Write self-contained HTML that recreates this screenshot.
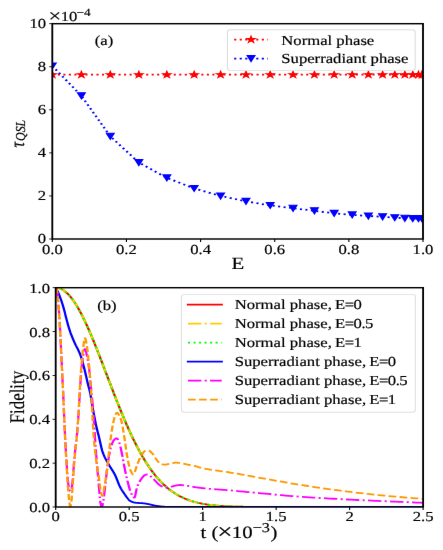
<!DOCTYPE html>
<html lang="en"><head><meta charset="utf-8"><title>QSL time and fidelity</title>
<style>html,body{margin:0;padding:0;background:#fff}svg{display:block}text{font-family:"Liberation Serif", "DejaVu Serif", serif;fill:#000;stroke:#000;stroke-width:0.22px;text-rendering:geometricPrecision}</style>
</head><body>
<svg width="443" height="550" viewBox="0 0 443 550">
<rect width="443" height="550" fill="#fff"/>
<defs>
<clipPath id="c1"><rect x="52.3" y="30.38" width="370.7" height="276.03"/></clipPath>
<clipPath id="c2"><rect x="55.7" y="368.85" width="367.4" height="281.15"/></clipPath>
<filter id="soft" x="0" y="0" width="443" height="550" filterUnits="userSpaceOnUse" color-interpolation-filters="sRGB"><feConvolveMatrix order="3" kernelMatrix="0.00163 0.03713 0.00163 0.03713 0.84497 0.03713 0.00163 0.03713 0.00163" edgeMode="duplicate" preserveAlpha="false"/></filter>
</defs>
<g filter="url(#soft)"><g transform="scale(1 0.78)">
<path d="M52.3 95.77 L81.38 95.77 L110.29 95.77 L138.84 95.77 L166.85 95.77 L194.16 95.77 L220.59 95.77 L245.99 95.77 L270.19 95.77 L293.05 95.77 L314.42 95.77 L334.18 95.77 L352.2 95.77 L368.37 95.77 L382.6 95.77 L394.78 95.77 L404.86 95.77 L412.76 95.77 L418.44 95.77 L421.86 95.77 L423 95.77" fill="none" stroke="#ff0000" stroke-width="2.3" stroke-dasharray="2.08 3.44" clip-path="url(#c1)" stroke-linejoin="round"/>
<polygon points="52.3,91.6 53.24,94.48 56.26,94.48 53.81,96.26 54.75,99.14 52.3,97.36 49.85,99.14 50.79,96.26 48.34,94.48 51.36,94.48" fill="#ff0000" stroke="#ff0000" stroke-width="1.39" stroke-linejoin="miter" clip-path="url(#c1)"/>
<polygon points="81.38,91.6 82.32,94.48 85.35,94.48 82.9,96.26 83.83,99.14 81.38,97.36 78.94,99.14 79.87,96.26 77.42,94.48 80.45,94.48" fill="#ff0000" stroke="#ff0000" stroke-width="1.39" stroke-linejoin="miter" clip-path="url(#c1)"/>
<polygon points="110.29,91.6 111.23,94.48 114.25,94.48 111.8,96.26 112.74,99.14 110.29,97.36 107.84,99.14 108.78,96.26 106.33,94.48 109.35,94.48" fill="#ff0000" stroke="#ff0000" stroke-width="1.39" stroke-linejoin="miter" clip-path="url(#c1)"/>
<polygon points="138.84,91.6 139.77,94.48 142.8,94.48 140.35,96.26 141.29,99.14 138.84,97.36 136.39,99.14 137.32,96.26 134.88,94.48 137.9,94.48" fill="#ff0000" stroke="#ff0000" stroke-width="1.39" stroke-linejoin="miter" clip-path="url(#c1)"/>
<polygon points="166.85,91.6 167.79,94.48 170.82,94.48 168.37,96.26 169.3,99.14 166.85,97.36 164.4,99.14 165.34,96.26 162.89,94.48 165.92,94.48" fill="#ff0000" stroke="#ff0000" stroke-width="1.39" stroke-linejoin="miter" clip-path="url(#c1)"/>
<polygon points="194.16,91.6 195.1,94.48 198.12,94.48 195.67,96.26 196.61,99.14 194.16,97.36 191.71,99.14 192.65,96.26 190.2,94.48 193.23,94.48" fill="#ff0000" stroke="#ff0000" stroke-width="1.39" stroke-linejoin="miter" clip-path="url(#c1)"/>
<polygon points="220.59,91.6 221.53,94.48 224.56,94.48 222.11,96.26 223.04,99.14 220.59,97.36 218.15,99.14 219.08,96.26 216.63,94.48 219.66,94.48" fill="#ff0000" stroke="#ff0000" stroke-width="1.39" stroke-linejoin="miter" clip-path="url(#c1)"/>
<polygon points="245.99,91.6 246.93,94.48 249.95,94.48 247.5,96.26 248.44,99.14 245.99,97.36 243.54,99.14 244.48,96.26 242.03,94.48 245.05,94.48" fill="#ff0000" stroke="#ff0000" stroke-width="1.39" stroke-linejoin="miter" clip-path="url(#c1)"/>
<polygon points="270.19,91.6 271.13,94.48 274.15,94.48 271.71,96.26 272.64,99.14 270.19,97.36 267.74,99.14 268.68,96.26 266.23,94.48 269.26,94.48" fill="#ff0000" stroke="#ff0000" stroke-width="1.39" stroke-linejoin="miter" clip-path="url(#c1)"/>
<polygon points="293.05,91.6 293.99,94.48 297.01,94.48 294.56,96.26 295.5,99.14 293.05,97.36 290.6,99.14 291.54,96.26 289.09,94.48 292.11,94.48" fill="#ff0000" stroke="#ff0000" stroke-width="1.39" stroke-linejoin="miter" clip-path="url(#c1)"/>
<polygon points="314.42,91.6 315.36,94.48 318.39,94.48 315.94,96.26 316.87,99.14 314.42,97.36 311.98,99.14 312.91,96.26 310.46,94.48 313.49,94.48" fill="#ff0000" stroke="#ff0000" stroke-width="1.39" stroke-linejoin="miter" clip-path="url(#c1)"/>
<polygon points="334.18,91.6 335.12,94.48 338.15,94.48 335.7,96.26 336.63,99.14 334.18,97.36 331.73,99.14 332.67,96.26 330.22,94.48 333.25,94.48" fill="#ff0000" stroke="#ff0000" stroke-width="1.39" stroke-linejoin="miter" clip-path="url(#c1)"/>
<polygon points="352.2,91.6 353.14,94.48 356.17,94.48 353.72,96.26 354.65,99.14 352.2,97.36 349.75,99.14 350.69,96.26 348.24,94.48 351.27,94.48" fill="#ff0000" stroke="#ff0000" stroke-width="1.39" stroke-linejoin="miter" clip-path="url(#c1)"/>
<polygon points="368.37,91.6 369.31,94.48 372.34,94.48 369.89,96.26 370.82,99.14 368.37,97.36 365.92,99.14 366.86,96.26 364.41,94.48 367.44,94.48" fill="#ff0000" stroke="#ff0000" stroke-width="1.39" stroke-linejoin="miter" clip-path="url(#c1)"/>
<polygon points="382.6,91.6 383.53,94.48 386.56,94.48 384.11,96.26 385.05,99.14 382.6,97.36 380.15,99.14 381.08,96.26 378.63,94.48 381.66,94.48" fill="#ff0000" stroke="#ff0000" stroke-width="1.39" stroke-linejoin="miter" clip-path="url(#c1)"/>
<polygon points="394.78,91.6 395.72,94.48 398.74,94.48 396.3,96.26 397.23,99.14 394.78,97.36 392.33,99.14 393.27,96.26 390.82,94.48 393.85,94.48" fill="#ff0000" stroke="#ff0000" stroke-width="1.39" stroke-linejoin="miter" clip-path="url(#c1)"/>
<polygon points="404.86,91.6 405.79,94.48 408.82,94.48 406.37,96.26 407.31,99.14 404.86,97.36 402.41,99.14 403.34,96.26 400.89,94.48 403.92,94.48" fill="#ff0000" stroke="#ff0000" stroke-width="1.39" stroke-linejoin="miter" clip-path="url(#c1)"/>
<polygon points="412.76,91.6 413.69,94.48 416.72,94.48 414.27,96.26 415.21,99.14 412.76,97.36 410.31,99.14 411.24,96.26 408.79,94.48 411.82,94.48" fill="#ff0000" stroke="#ff0000" stroke-width="1.39" stroke-linejoin="miter" clip-path="url(#c1)"/>
<polygon points="418.44,91.6 419.37,94.48 422.4,94.48 419.95,96.26 420.89,99.14 418.44,97.36 415.99,99.14 416.92,96.26 414.47,94.48 417.5,94.48" fill="#ff0000" stroke="#ff0000" stroke-width="1.39" stroke-linejoin="miter" clip-path="url(#c1)"/>
<polygon points="421.86,91.6 422.79,94.48 425.82,94.48 423.37,96.26 424.31,99.14 421.86,97.36 419.41,99.14 420.34,96.26 417.89,94.48 420.92,94.48" fill="#ff0000" stroke="#ff0000" stroke-width="1.39" stroke-linejoin="miter" clip-path="url(#c1)"/>
<polygon points="423,91.6 423.94,94.48 426.96,94.48 424.51,96.26 425.45,99.14 423,97.36 420.55,99.14 421.49,96.26 419.04,94.48 422.06,94.48" fill="#ff0000" stroke="#ff0000" stroke-width="1.39" stroke-linejoin="miter" clip-path="url(#c1)"/>
<path d="M52.3 84.49 L81.38 122.85 L110.29 174.75 L138.84 208.42 L166.85 228.02 L194.16 241.54 L220.59 251.21 L245.99 258.11 L270.19 263.35 L293.05 266.94 L314.42 270.25 L334.18 273.56 L352.2 275.5 L368.37 276.88 L382.6 277.98 L394.78 279.08 L404.86 279.77 L412.76 280.05 L418.44 280.19 L421.86 280.19 L423 280.19" fill="none" stroke="#0000ff" stroke-width="2.3" stroke-dasharray="2.08 3.44" clip-path="url(#c1)" stroke-linejoin="round"/>
<polygon points="48.48,80.67 56.12,80.67 52.3,88.31" fill="#0000ff" stroke="#0000ff" stroke-width="1.39" stroke-linejoin="miter" clip-path="url(#c1)"/>
<polygon points="77.57,119.03 85.2,119.03 81.38,126.67" fill="#0000ff" stroke="#0000ff" stroke-width="1.39" stroke-linejoin="miter" clip-path="url(#c1)"/>
<polygon points="106.47,170.93 114.11,170.93 110.29,178.57" fill="#0000ff" stroke="#0000ff" stroke-width="1.39" stroke-linejoin="miter" clip-path="url(#c1)"/>
<polygon points="135.02,204.6 142.66,204.6 138.84,212.24" fill="#0000ff" stroke="#0000ff" stroke-width="1.39" stroke-linejoin="miter" clip-path="url(#c1)"/>
<polygon points="163.03,224.2 170.67,224.2 166.85,231.84" fill="#0000ff" stroke="#0000ff" stroke-width="1.39" stroke-linejoin="miter" clip-path="url(#c1)"/>
<polygon points="190.34,237.72 197.98,237.72 194.16,245.36" fill="#0000ff" stroke="#0000ff" stroke-width="1.39" stroke-linejoin="miter" clip-path="url(#c1)"/>
<polygon points="216.77,247.39 224.41,247.39 220.59,255.02" fill="#0000ff" stroke="#0000ff" stroke-width="1.39" stroke-linejoin="miter" clip-path="url(#c1)"/>
<polygon points="242.17,254.29 249.81,254.29 245.99,261.93" fill="#0000ff" stroke="#0000ff" stroke-width="1.39" stroke-linejoin="miter" clip-path="url(#c1)"/>
<polygon points="266.37,259.53 274.01,259.53 270.19,267.17" fill="#0000ff" stroke="#0000ff" stroke-width="1.39" stroke-linejoin="miter" clip-path="url(#c1)"/>
<polygon points="289.23,263.12 296.87,263.12 293.05,270.76" fill="#0000ff" stroke="#0000ff" stroke-width="1.39" stroke-linejoin="miter" clip-path="url(#c1)"/>
<polygon points="310.61,266.43 318.24,266.43 314.42,274.07" fill="#0000ff" stroke="#0000ff" stroke-width="1.39" stroke-linejoin="miter" clip-path="url(#c1)"/>
<polygon points="330.36,269.74 338,269.74 334.18,277.38" fill="#0000ff" stroke="#0000ff" stroke-width="1.39" stroke-linejoin="miter" clip-path="url(#c1)"/>
<polygon points="348.38,271.68 356.02,271.68 352.2,279.31" fill="#0000ff" stroke="#0000ff" stroke-width="1.39" stroke-linejoin="miter" clip-path="url(#c1)"/>
<polygon points="364.55,273.06 372.19,273.06 368.37,280.69" fill="#0000ff" stroke="#0000ff" stroke-width="1.39" stroke-linejoin="miter" clip-path="url(#c1)"/>
<polygon points="378.78,274.16 386.42,274.16 382.6,281.8" fill="#0000ff" stroke="#0000ff" stroke-width="1.39" stroke-linejoin="miter" clip-path="url(#c1)"/>
<polygon points="390.96,275.26 398.6,275.26 394.78,282.9" fill="#0000ff" stroke="#0000ff" stroke-width="1.39" stroke-linejoin="miter" clip-path="url(#c1)"/>
<polygon points="401.04,275.95 408.68,275.95 404.86,283.59" fill="#0000ff" stroke="#0000ff" stroke-width="1.39" stroke-linejoin="miter" clip-path="url(#c1)"/>
<polygon points="408.94,276.23 416.58,276.23 412.76,283.87" fill="#0000ff" stroke="#0000ff" stroke-width="1.39" stroke-linejoin="miter" clip-path="url(#c1)"/>
<polygon points="414.62,276.37 422.26,276.37 418.44,284.01" fill="#0000ff" stroke="#0000ff" stroke-width="1.39" stroke-linejoin="miter" clip-path="url(#c1)"/>
<polygon points="418.04,276.37 425.68,276.37 421.86,284.01" fill="#0000ff" stroke="#0000ff" stroke-width="1.39" stroke-linejoin="miter" clip-path="url(#c1)"/>
<polygon points="419.18,276.37 426.82,276.37 423,284.01" fill="#0000ff" stroke="#0000ff" stroke-width="1.39" stroke-linejoin="miter" clip-path="url(#c1)"/>
<rect x="52.3" y="30.38" width="370.7" height="276.03" fill="none" stroke="#000" stroke-width="1.85"/>
<line x1="52.3" x2="52.3" y1="306.41" y2="310.38" stroke="#000" stroke-width="1.1"/>
<text transform="translate(52.3 325.64) scale(1 1.06)" text-anchor="middle" font-size="16.67">0.0</text>
<line x1="126.44" x2="126.44" y1="306.41" y2="310.38" stroke="#000" stroke-width="1.1"/>
<text transform="translate(126.44 325.64) scale(1 1.06)" text-anchor="middle" font-size="16.67">0.2</text>
<line x1="200.58" x2="200.58" y1="306.41" y2="310.38" stroke="#000" stroke-width="1.1"/>
<text transform="translate(200.58 325.64) scale(1 1.06)" text-anchor="middle" font-size="16.67">0.4</text>
<line x1="274.72" x2="274.72" y1="306.41" y2="310.38" stroke="#000" stroke-width="1.1"/>
<text transform="translate(274.72 325.64) scale(1 1.06)" text-anchor="middle" font-size="16.67">0.6</text>
<line x1="348.86" x2="348.86" y1="306.41" y2="310.38" stroke="#000" stroke-width="1.1"/>
<text transform="translate(348.86 325.64) scale(1 1.06)" text-anchor="middle" font-size="16.67">0.8</text>
<line x1="423" x2="423" y1="306.41" y2="310.38" stroke="#000" stroke-width="1.1"/>
<text transform="translate(423 325.64) scale(1 1.06)" text-anchor="middle" font-size="16.67">1.0</text>
<line x1="49.2" x2="52.3" y1="306.41" y2="306.41" stroke="#000" stroke-width="1.1"/>
<text transform="translate(46.2 312.05) scale(1 1.06)" text-anchor="end" font-size="16.67">0</text>
<line x1="49.2" x2="52.3" y1="251.21" y2="251.21" stroke="#000" stroke-width="1.1"/>
<text transform="translate(46.2 256.85) scale(1 1.06)" text-anchor="end" font-size="16.67">2</text>
<line x1="49.2" x2="52.3" y1="196" y2="196" stroke="#000" stroke-width="1.1"/>
<text transform="translate(46.2 201.64) scale(1 1.06)" text-anchor="end" font-size="16.67">4</text>
<line x1="49.2" x2="52.3" y1="140.79" y2="140.79" stroke="#000" stroke-width="1.1"/>
<text transform="translate(46.2 146.44) scale(1 1.06)" text-anchor="end" font-size="16.67">6</text>
<line x1="49.2" x2="52.3" y1="85.59" y2="85.59" stroke="#000" stroke-width="1.1"/>
<text transform="translate(46.2 91.23) scale(1 1.06)" text-anchor="end" font-size="16.67">8</text>
<line x1="49.2" x2="52.3" y1="30.38" y2="30.38" stroke="#000" stroke-width="1.1"/>
<text transform="translate(46.2 36.03) scale(1 1.06)" text-anchor="end" font-size="16.67">10</text>
<text transform="translate(48.6 26.92) scale(1 1.06)" text-anchor="start" font-size="16.67"><tspan font-size="22.5" dy="1.2">×</tspan><tspan dy="-1.2" dx="-0.6">10</tspan><tspan font-size="13.33" dy="-5.5" dx="-0.8">−4</tspan></text>
<text transform="translate(104 57.95) scale(1 1.06)" text-anchor="middle" font-size="16.67">(a)</text>
<text transform="translate(237.8 344.62) scale(1 1.06)" text-anchor="middle" font-size="20.83">E</text>
<text transform="translate(23.8 188.97) rotate(-90)" font-style="italic" font-size="20.21">τ</text>
<text transform="translate(25.3 180.64) rotate(-90) scale(1.11 1)" font-style="italic" font-size="13.7">QSL</text>
<rect x="227.4" y="38.08" width="187.8" height="52.44" rx="3" ry="3.6" fill="#fff" fill-opacity="0.8" stroke="#dadada" stroke-opacity="0.9" stroke-width="1.1"/>
<path d="M234.2 50.77 L267.9 50.77" fill="none" stroke="#ff0000" stroke-width="2.3" stroke-dasharray="2.08 3.44" stroke-linejoin="round"/>
<polygon points="251.05,46.6 251.99,49.48 255.01,49.48 252.56,51.26 253.5,54.14 251.05,52.36 248.6,54.14 249.54,51.26 247.09,49.48 250.11,49.48" fill="#ff0000" stroke="#ff0000" stroke-width="1.39" stroke-linejoin="miter"/>
<text transform="translate(281.3 57.18) scale(1 1.06)" text-anchor="start" font-size="16.67">Normal phase</text>
<path d="M234.2 75.13 L267.9 75.13" fill="none" stroke="#0000ff" stroke-width="2.3" stroke-dasharray="2.08 3.44" stroke-linejoin="round"/>
<polygon points="247.23,71.31 254.87,71.31 251.05,78.95" fill="#0000ff" stroke="#0000ff" stroke-width="1.39" stroke-linejoin="miter"/>
<text transform="translate(281.3 81.03) scale(1 1.06)" text-anchor="start" font-size="16.67">Superradiant phase</text>
<path d="M55.7 368.85 L56.31 368.87 L56.93 368.93 L57.54 369.03 L58.15 369.17 L58.77 369.36 L59.38 369.58 L59.99 369.85 L60.61 370.15 L61.22 370.5 L61.83 370.89 L62.45 371.32 L63.06 371.78 L63.67 372.29 L64.29 372.84 L64.9 373.42 L65.51 374.05 L66.13 374.71 L66.74 375.41 L67.35 376.15 L67.97 376.93 L68.58 377.75 L69.19 378.6 L69.81 379.49 L70.42 380.42 L71.03 381.38 L71.65 382.38 L72.26 383.41 L72.87 384.48 L73.49 385.58 L74.1 386.72 L74.71 387.89 L75.33 389.09 L75.94 390.32 L76.55 391.59 L77.17 392.89 L77.78 394.22 L78.39 395.58 L79.01 396.97 L79.62 398.39 L80.23 399.84 L80.85 401.31 L81.46 402.82 L82.07 404.35 L82.69 405.9 L83.3 407.48 L83.91 409.09 L84.53 410.72 L85.14 412.38 L85.75 414.06 L86.37 415.76 L86.98 417.48 L87.59 419.22 L88.21 420.99 L88.82 422.77 L89.43 424.58 L90.05 426.4 L90.66 428.24 L91.27 430.1 L91.89 431.97 L92.5 433.86 L93.11 435.76 L93.73 437.68 L94.34 439.61 L94.95 441.56 L95.57 443.52 L96.18 445.48 L96.79 447.47 L97.41 449.46 L98.02 451.46 L98.63 453.46 L99.25 455.48 L99.86 457.51 L100.47 459.54 L101.09 461.58 L101.7 463.62 L102.32 465.67 L102.93 467.72 L103.54 469.78 L104.16 471.84 L104.77 473.9 L105.38 475.96 L106 478.03 L106.61 480.09 L107.22 482.16 L107.84 484.22 L108.45 486.28 L109.06 488.35 L109.68 490.4 L110.29 492.46 L110.9 494.51 L111.52 496.56 L112.13 498.6 L112.74 500.64 L113.36 502.67 L113.97 504.7 L114.58 506.72 L115.2 508.73 L115.81 510.74 L116.42 512.73 L117.04 514.72 L117.65 516.7 L118.26 518.67 L118.88 520.63 L119.49 522.57 L120.1 524.51 L120.72 526.44 L121.33 528.35 L121.94 530.25 L122.56 532.15 L123.17 534.02 L123.78 535.89 L124.4 537.74 L125.01 539.58 L125.62 541.41 L126.24 543.22 L126.85 545.02 L127.46 546.8 L128.08 548.57 L128.69 550.33 L129.3 552.06 L129.92 553.79 L130.53 555.49 L131.14 557.18 L131.76 558.85 L132.37 560.51 L132.98 562.15 L133.6 563.77 L134.21 565.38 L134.82 566.96 L135.44 568.53 L136.05 570.08 L136.66 571.62 L137.28 573.14 L137.89 574.63 L138.5 576.11 L139.12 577.58 L139.73 579.02 L140.34 580.44 L140.96 581.85 L141.57 583.24 L142.18 584.61 L142.8 585.96 L143.41 587.3 L144.02 588.61 L144.64 589.91 L145.25 591.18 L145.86 592.44 L146.48 593.68 L147.09 594.9 L147.7 596.11 L148.32 597.29 L148.93 598.46 L149.54 599.61 L150.16 600.74 L150.77 601.85 L151.38 602.95 L152 604.02 L152.61 605.08 L153.22 606.12 L153.84 607.15 L154.45 608.15 L155.06 609.14 L155.68 610.11 L156.29 611.06 L156.9 611.99 L157.52 612.9 L158.13 613.8 L158.74 614.68 L159.36 615.54 L159.97 616.39 L160.58 617.22 L161.2 618.04 L161.81 618.84 L162.42 619.62 L163.04 620.39 L163.65 621.15 L164.26 621.89 L164.88 622.61 L165.49 623.32 L166.1 624.01 L166.72 624.69 L167.33 625.36 L167.94 626.01 L168.56 626.65 L169.17 627.28 L169.78 627.89 L170.4 628.49 L171.01 629.07 L171.62 629.64 L172.24 630.2 L172.85 630.75 L173.46 631.28 L174.08 631.8 L174.69 632.32 L175.3 632.81 L175.92 633.3 L176.53 633.78 L177.14 634.24 L177.76 634.69 L178.37 635.14 L178.98 635.57 L179.6 635.99 L180.21 636.4 L180.82 636.8 L181.44 637.19 L182.05 637.57 L182.66 637.94 L183.28 638.31 L183.89 638.66 L184.5 639 L185.12 639.34 L185.73 639.66 L186.34 639.98 L186.96 640.29 L187.57 640.59 L188.18 640.89 L188.8 641.17 L189.41 641.45 L190.02 641.72 L190.64 641.98 L191.25 642.24 L191.86 642.49 L192.48 642.73 L193.09 642.96 L193.71 643.19 L194.32 643.41 L194.93 643.63 L195.55 643.84 L196.16 644.04 L196.77 644.24 L197.39 644.43 L198 644.62 L198.61 644.8 L199.23 644.98 L199.84 645.15 L200.45 645.31 L201.07 645.47 L201.68 645.63 L202.29 645.78 L202.91 645.92 L203.52 646.06 L204.13 646.2 L204.75 646.33 L205.36 646.46 L205.97 646.59 L206.59 646.71 L207.2 646.83 L207.81 646.94 L208.43 647.05 L209.04 647.16 L209.65 647.26 L210.27 647.36 L210.88 647.45 L211.49 647.55 L212.11 647.64 L212.72 647.72 L213.33 647.81 L213.95 647.89 L214.56 647.97 L215.17 648.04 L215.79 648.12 L216.4 648.19 L217.01 648.26 L217.63 648.32 L218.24 648.39 L218.85 648.45 L219.47 648.51 L220.08 648.57 L220.69 648.62 L221.31 648.68 L221.92 648.73 L222.53 648.78 L223.15 648.83 L223.76 648.87 L224.37 648.92 L224.99 648.96 L225.6 649 L226.21 649.04 L226.83 649.08 L227.44 649.12 L228.05 649.15 L228.67 649.19 L229.28 649.22 L229.89 649.25 L230.51 649.28 L231.12 649.31 L231.73 649.34 L232.35 649.37 L232.96 649.39 L233.57 649.42 L234.19 649.44 L234.8 649.47 L235.41 649.49 L236.03 649.51 L236.64 649.53 L237.25 649.55 L237.87 649.57 L238.48 649.59 L239.09 649.61 L239.71 649.62 L240.32 649.64 L240.93 649.66 L241.55 649.67 L242.16 649.68 L242.77 649.7 L243.39 649.71 L244 649.72 L244.61 649.74 L245.23 649.75 L245.84 649.76 L246.45 649.77 L247.07 649.78 L247.68 649.79 L248.29 649.8 L248.91 649.81 L249.52 649.82 L250.13 649.83 L250.75 649.83 L251.36 649.84 L251.97 649.85 L252.59 649.86 L253.2 649.86 L253.81 649.87 L254.43 649.87 L255.04 649.88 L255.65 649.89 L256.27 649.89 L256.88 649.9 L257.49 649.9 L258.11 649.91 L258.72 649.91 L259.33 649.91 L259.95 649.92 L260.56 649.92 L261.17 649.93 L261.79 649.93 L262.4 649.93 L263.01 649.94 L263.63 649.94 L264.24 649.94 L264.85 649.95 L265.47 649.95 L266.08 649.95 L266.69 649.95 L267.31 649.96 L267.92 649.96 L268.53 649.96 L269.15 649.96 L269.76 649.96 L270.37 649.97 L270.99 649.97 L271.6 649.97 L272.21 649.97 L272.83 649.97 L273.44 649.97 L274.05 649.97 L274.67 649.98 L275.28 649.98 L275.89 649.98 L276.51 649.98 L277.12 649.98 L277.73 649.98 L278.35 649.98 L278.96 649.98 L279.57 649.98 L280.19 649.99 L280.8 649.99 L281.41 649.99 L282.03 649.99 L282.64 649.99 L283.25 649.99 L283.87 649.99 L284.48 649.99 L285.09 649.99 L285.71 649.99 L286.32 649.99 L286.94 649.99 L287.55 649.99 L288.16 649.99 L288.78 649.99 L289.39 649.99 L290 649.99 L290.62 649.99 L291.23 649.99 L291.84 649.99 L292.46 650 L293.07 650 L293.68 650 L294.3 650 L294.91 650 L295.52 650 L296.14 650 L296.75 650 L297.36 650 L297.98 650 L298.59 650 L299.2 650 L299.82 650 L300.43 650 L301.04 650 L301.66 650 L302.27 650 L302.88 650 L303.5 650 L304.11 650 L304.72 650 L305.34 650 L305.95 650 L306.56 650 L307.18 650 L307.79 650 L308.4 650 L309.02 650 L309.63 650 L310.24 650 L310.86 650 L311.47 650 L312.08 650 L312.7 650 L313.31 650 L313.92 650 L314.54 650 L315.15 650 L315.76 650 L316.38 650 L316.99 650 L317.6 650 L318.22 650 L318.83 650 L319.44 650 L320.06 650 L320.67 650 L321.28 650 L321.9 650 L322.51 650 L323.12 650 L323.74 650 L324.35 650 L324.96 650 L325.58 650 L326.19 650 L326.8 650 L327.42 650 L328.03 650 L328.64 650 L329.26 650 L329.87 650 L330.48 650 L331.1 650 L331.71 650 L332.32 650 L332.94 650 L333.55 650 L334.16 650 L334.78 650 L335.39 650 L336 650 L336.62 650 L337.23 650 L337.84 650 L338.46 650 L339.07 650 L339.68 650 L340.3 650 L340.91 650 L341.52 650 L342.14 650 L342.75 650 L343.36 650 L343.98 650 L344.59 650 L345.2 650 L345.82 650 L346.43 650 L347.04 650 L347.66 650 L348.27 650 L348.88 650 L349.5 650 L350.11 650 L350.72 650 L351.34 650 L351.95 650 L352.56 650 L353.18 650 L353.79 650 L354.4 650 L355.02 650 L355.63 650 L356.24 650 L356.86 650 L357.47 650 L358.08 650 L358.7 650 L359.31 650 L359.92 650 L360.54 650 L361.15 650 L361.76 650 L362.38 650 L362.99 650 L363.6 650 L364.22 650 L364.83 650 L365.44 650 L366.06 650 L366.67 650 L367.28 650 L367.9 650 L368.51 650 L369.12 650 L369.74 650 L370.35 650 L370.96 650 L371.58 650 L372.19 650 L372.8 650 L373.42 650 L374.03 650 L374.64 650 L375.26 650 L375.87 650 L376.48 650 L377.1 650 L377.71 650 L378.33 650 L378.94 650 L379.55 650 L380.17 650 L380.78 650 L381.39 650 L382.01 650 L382.62 650 L383.23 650 L383.85 650 L384.46 650 L385.07 650 L385.69 650 L386.3 650 L386.91 650 L387.53 650 L388.14 650 L388.75 650 L389.37 650 L389.98 650 L390.59 650 L391.21 650 L391.82 650 L392.43 650 L393.05 650 L393.66 650 L394.27 650 L394.89 650 L395.5 650 L396.11 650 L396.73 650 L397.34 650 L397.95 650 L398.57 650 L399.18 650 L399.79 650 L400.41 650 L401.02 650 L401.63 650 L402.25 650 L402.86 650 L403.47 650 L404.09 650 L404.7 650 L405.31 650 L405.93 650 L406.54 650 L407.15 650 L407.77 650 L408.38 650 L408.99 650 L409.61 650 L410.22 650 L410.83 650 L411.45 650 L412.06 650 L412.67 650 L413.29 650 L413.9 650 L414.51 650 L415.13 650 L415.74 650 L416.35 650 L416.97 650 L417.58 650 L418.19 650 L418.81 650 L419.42 650 L420.03 650 L420.65 650 L421.26 650 L421.87 650 L422.49 650 L423.1 650" fill="none" stroke="#ff0000" stroke-width="2.3" stroke-linecap="square" clip-path="url(#c2)" stroke-linejoin="round"/>
<path d="M55.7 368.85 L56.31 368.87 L56.93 368.93 L57.54 369.03 L58.15 369.17 L58.77 369.36 L59.38 369.58 L59.99 369.85 L60.61 370.15 L61.22 370.5 L61.83 370.89 L62.45 371.32 L63.06 371.78 L63.67 372.29 L64.29 372.84 L64.9 373.42 L65.51 374.05 L66.13 374.71 L66.74 375.41 L67.35 376.15 L67.97 376.93 L68.58 377.75 L69.19 378.6 L69.81 379.49 L70.42 380.42 L71.03 381.38 L71.65 382.38 L72.26 383.41 L72.87 384.48 L73.49 385.58 L74.1 386.72 L74.71 387.89 L75.33 389.09 L75.94 390.32 L76.55 391.59 L77.17 392.89 L77.78 394.22 L78.39 395.58 L79.01 396.97 L79.62 398.39 L80.23 399.84 L80.85 401.31 L81.46 402.82 L82.07 404.35 L82.69 405.9 L83.3 407.48 L83.91 409.09 L84.53 410.72 L85.14 412.38 L85.75 414.06 L86.37 415.76 L86.98 417.48 L87.59 419.22 L88.21 420.99 L88.82 422.77 L89.43 424.58 L90.05 426.4 L90.66 428.24 L91.27 430.1 L91.89 431.97 L92.5 433.86 L93.11 435.76 L93.73 437.68 L94.34 439.61 L94.95 441.56 L95.57 443.52 L96.18 445.48 L96.79 447.47 L97.41 449.46 L98.02 451.46 L98.63 453.46 L99.25 455.48 L99.86 457.51 L100.47 459.54 L101.09 461.58 L101.7 463.62 L102.32 465.67 L102.93 467.72 L103.54 469.78 L104.16 471.84 L104.77 473.9 L105.38 475.96 L106 478.03 L106.61 480.09 L107.22 482.16 L107.84 484.22 L108.45 486.28 L109.06 488.35 L109.68 490.4 L110.29 492.46 L110.9 494.51 L111.52 496.56 L112.13 498.6 L112.74 500.64 L113.36 502.67 L113.97 504.7 L114.58 506.72 L115.2 508.73 L115.81 510.74 L116.42 512.73 L117.04 514.72 L117.65 516.7 L118.26 518.67 L118.88 520.63 L119.49 522.57 L120.1 524.51 L120.72 526.44 L121.33 528.35 L121.94 530.25 L122.56 532.15 L123.17 534.02 L123.78 535.89 L124.4 537.74 L125.01 539.58 L125.62 541.41 L126.24 543.22 L126.85 545.02 L127.46 546.8 L128.08 548.57 L128.69 550.33 L129.3 552.06 L129.92 553.79 L130.53 555.49 L131.14 557.18 L131.76 558.85 L132.37 560.51 L132.98 562.15 L133.6 563.77 L134.21 565.38 L134.82 566.96 L135.44 568.53 L136.05 570.08 L136.66 571.62 L137.28 573.14 L137.89 574.63 L138.5 576.11 L139.12 577.58 L139.73 579.02 L140.34 580.44 L140.96 581.85 L141.57 583.24 L142.18 584.61 L142.8 585.96 L143.41 587.3 L144.02 588.61 L144.64 589.91 L145.25 591.18 L145.86 592.44 L146.48 593.68 L147.09 594.9 L147.7 596.11 L148.32 597.29 L148.93 598.46 L149.54 599.61 L150.16 600.74 L150.77 601.85 L151.38 602.95 L152 604.02 L152.61 605.08 L153.22 606.12 L153.84 607.15 L154.45 608.15 L155.06 609.14 L155.68 610.11 L156.29 611.06 L156.9 611.99 L157.52 612.9 L158.13 613.8 L158.74 614.68 L159.36 615.54 L159.97 616.39 L160.58 617.22 L161.2 618.04 L161.81 618.84 L162.42 619.62 L163.04 620.39 L163.65 621.15 L164.26 621.89 L164.88 622.61 L165.49 623.32 L166.1 624.01 L166.72 624.69 L167.33 625.36 L167.94 626.01 L168.56 626.65 L169.17 627.28 L169.78 627.89 L170.4 628.49 L171.01 629.07 L171.62 629.64 L172.24 630.2 L172.85 630.75 L173.46 631.28 L174.08 631.8 L174.69 632.32 L175.3 632.81 L175.92 633.3 L176.53 633.78 L177.14 634.24 L177.76 634.69 L178.37 635.14 L178.98 635.57 L179.6 635.99 L180.21 636.4 L180.82 636.8 L181.44 637.19 L182.05 637.57 L182.66 637.94 L183.28 638.31 L183.89 638.66 L184.5 639 L185.12 639.34 L185.73 639.66 L186.34 639.98 L186.96 640.29 L187.57 640.59 L188.18 640.89 L188.8 641.17 L189.41 641.45 L190.02 641.72 L190.64 641.98 L191.25 642.24 L191.86 642.49 L192.48 642.73 L193.09 642.96 L193.71 643.19 L194.32 643.41 L194.93 643.63 L195.55 643.84 L196.16 644.04 L196.77 644.24 L197.39 644.43 L198 644.62 L198.61 644.8 L199.23 644.98 L199.84 645.15 L200.45 645.31 L201.07 645.47 L201.68 645.63 L202.29 645.78 L202.91 645.92 L203.52 646.06 L204.13 646.2 L204.75 646.33 L205.36 646.46 L205.97 646.59 L206.59 646.71 L207.2 646.83 L207.81 646.94 L208.43 647.05 L209.04 647.16 L209.65 647.26 L210.27 647.36 L210.88 647.45 L211.49 647.55 L212.11 647.64 L212.72 647.72 L213.33 647.81 L213.95 647.89 L214.56 647.97 L215.17 648.04 L215.79 648.12 L216.4 648.19 L217.01 648.26 L217.63 648.32 L218.24 648.39 L218.85 648.45 L219.47 648.51 L220.08 648.57 L220.69 648.62 L221.31 648.68 L221.92 648.73 L222.53 648.78 L223.15 648.83 L223.76 648.87 L224.37 648.92 L224.99 648.96 L225.6 649 L226.21 649.04 L226.83 649.08 L227.44 649.12 L228.05 649.15 L228.67 649.19 L229.28 649.22 L229.89 649.25 L230.51 649.28 L231.12 649.31 L231.73 649.34 L232.35 649.37 L232.96 649.39 L233.57 649.42 L234.19 649.44 L234.8 649.47 L235.41 649.49 L236.03 649.51 L236.64 649.53 L237.25 649.55 L237.87 649.57 L238.48 649.59 L239.09 649.61 L239.71 649.62 L240.32 649.64 L240.93 649.66 L241.55 649.67 L242.16 649.68 L242.77 649.7 L243.39 649.71 L244 649.72 L244.61 649.74 L245.23 649.75 L245.84 649.76 L246.45 649.77 L247.07 649.78 L247.68 649.79 L248.29 649.8 L248.91 649.81 L249.52 649.82 L250.13 649.83 L250.75 649.83 L251.36 649.84 L251.97 649.85 L252.59 649.86 L253.2 649.86 L253.81 649.87 L254.43 649.87 L255.04 649.88 L255.65 649.89 L256.27 649.89 L256.88 649.9 L257.49 649.9 L258.11 649.91 L258.72 649.91 L259.33 649.91 L259.95 649.92 L260.56 649.92 L261.17 649.93 L261.79 649.93 L262.4 649.93 L263.01 649.94 L263.63 649.94 L264.24 649.94 L264.85 649.95 L265.47 649.95 L266.08 649.95 L266.69 649.95 L267.31 649.96 L267.92 649.96 L268.53 649.96 L269.15 649.96 L269.76 649.96 L270.37 649.97 L270.99 649.97 L271.6 649.97 L272.21 649.97 L272.83 649.97 L273.44 649.97 L274.05 649.97 L274.67 649.98 L275.28 649.98 L275.89 649.98 L276.51 649.98 L277.12 649.98 L277.73 649.98 L278.35 649.98 L278.96 649.98 L279.57 649.98 L280.19 649.99 L280.8 649.99 L281.41 649.99 L282.03 649.99 L282.64 649.99 L283.25 649.99 L283.87 649.99 L284.48 649.99 L285.09 649.99 L285.71 649.99 L286.32 649.99 L286.94 649.99 L287.55 649.99 L288.16 649.99 L288.78 649.99 L289.39 649.99 L290 649.99 L290.62 649.99 L291.23 649.99 L291.84 649.99 L292.46 650 L293.07 650 L293.68 650 L294.3 650 L294.91 650 L295.52 650 L296.14 650 L296.75 650 L297.36 650 L297.98 650 L298.59 650 L299.2 650 L299.82 650 L300.43 650 L301.04 650 L301.66 650 L302.27 650 L302.88 650 L303.5 650 L304.11 650 L304.72 650 L305.34 650 L305.95 650 L306.56 650 L307.18 650 L307.79 650 L308.4 650 L309.02 650 L309.63 650 L310.24 650 L310.86 650 L311.47 650 L312.08 650 L312.7 650 L313.31 650 L313.92 650 L314.54 650 L315.15 650 L315.76 650 L316.38 650 L316.99 650 L317.6 650 L318.22 650 L318.83 650 L319.44 650 L320.06 650 L320.67 650 L321.28 650 L321.9 650 L322.51 650 L323.12 650 L323.74 650 L324.35 650 L324.96 650 L325.58 650 L326.19 650 L326.8 650 L327.42 650 L328.03 650 L328.64 650 L329.26 650 L329.87 650 L330.48 650 L331.1 650 L331.71 650 L332.32 650 L332.94 650 L333.55 650 L334.16 650 L334.78 650 L335.39 650 L336 650 L336.62 650 L337.23 650 L337.84 650 L338.46 650 L339.07 650 L339.68 650 L340.3 650 L340.91 650 L341.52 650 L342.14 650 L342.75 650 L343.36 650 L343.98 650 L344.59 650 L345.2 650 L345.82 650 L346.43 650 L347.04 650 L347.66 650 L348.27 650 L348.88 650 L349.5 650 L350.11 650 L350.72 650 L351.34 650 L351.95 650 L352.56 650 L353.18 650 L353.79 650 L354.4 650 L355.02 650 L355.63 650 L356.24 650 L356.86 650 L357.47 650 L358.08 650 L358.7 650 L359.31 650 L359.92 650 L360.54 650 L361.15 650 L361.76 650 L362.38 650 L362.99 650 L363.6 650 L364.22 650 L364.83 650 L365.44 650 L366.06 650 L366.67 650 L367.28 650 L367.9 650 L368.51 650 L369.12 650 L369.74 650 L370.35 650 L370.96 650 L371.58 650 L372.19 650 L372.8 650 L373.42 650 L374.03 650 L374.64 650 L375.26 650 L375.87 650 L376.48 650 L377.1 650 L377.71 650 L378.33 650 L378.94 650 L379.55 650 L380.17 650 L380.78 650 L381.39 650 L382.01 650 L382.62 650 L383.23 650 L383.85 650 L384.46 650 L385.07 650 L385.69 650 L386.3 650 L386.91 650 L387.53 650 L388.14 650 L388.75 650 L389.37 650 L389.98 650 L390.59 650 L391.21 650 L391.82 650 L392.43 650 L393.05 650 L393.66 650 L394.27 650 L394.89 650 L395.5 650 L396.11 650 L396.73 650 L397.34 650 L397.95 650 L398.57 650 L399.18 650 L399.79 650 L400.41 650 L401.02 650 L401.63 650 L402.25 650 L402.86 650 L403.47 650 L404.09 650 L404.7 650 L405.31 650 L405.93 650 L406.54 650 L407.15 650 L407.77 650 L408.38 650 L408.99 650 L409.61 650 L410.22 650 L410.83 650 L411.45 650 L412.06 650 L412.67 650 L413.29 650 L413.9 650 L414.51 650 L415.13 650 L415.74 650 L416.35 650 L416.97 650 L417.58 650 L418.19 650 L418.81 650 L419.42 650 L420.03 650 L420.65 650 L421.26 650 L421.87 650 L422.49 650 L423.1 650" fill="none" stroke="#ffcc00" stroke-width="2.3" stroke-dasharray="13.33 3.33 2.08 3.33" clip-path="url(#c2)" stroke-linejoin="round"/>
<path d="M55.7 368.85 L56.31 368.87 L56.93 368.93 L57.54 369.03 L58.15 369.17 L58.77 369.36 L59.38 369.58 L59.99 369.85 L60.61 370.15 L61.22 370.5 L61.83 370.89 L62.45 371.32 L63.06 371.78 L63.67 372.29 L64.29 372.84 L64.9 373.42 L65.51 374.05 L66.13 374.71 L66.74 375.41 L67.35 376.15 L67.97 376.93 L68.58 377.75 L69.19 378.6 L69.81 379.49 L70.42 380.42 L71.03 381.38 L71.65 382.38 L72.26 383.41 L72.87 384.48 L73.49 385.58 L74.1 386.72 L74.71 387.89 L75.33 389.09 L75.94 390.32 L76.55 391.59 L77.17 392.89 L77.78 394.22 L78.39 395.58 L79.01 396.97 L79.62 398.39 L80.23 399.84 L80.85 401.31 L81.46 402.82 L82.07 404.35 L82.69 405.9 L83.3 407.48 L83.91 409.09 L84.53 410.72 L85.14 412.38 L85.75 414.06 L86.37 415.76 L86.98 417.48 L87.59 419.22 L88.21 420.99 L88.82 422.77 L89.43 424.58 L90.05 426.4 L90.66 428.24 L91.27 430.1 L91.89 431.97 L92.5 433.86 L93.11 435.76 L93.73 437.68 L94.34 439.61 L94.95 441.56 L95.57 443.52 L96.18 445.48 L96.79 447.47 L97.41 449.46 L98.02 451.46 L98.63 453.46 L99.25 455.48 L99.86 457.51 L100.47 459.54 L101.09 461.58 L101.7 463.62 L102.32 465.67 L102.93 467.72 L103.54 469.78 L104.16 471.84 L104.77 473.9 L105.38 475.96 L106 478.03 L106.61 480.09 L107.22 482.16 L107.84 484.22 L108.45 486.28 L109.06 488.35 L109.68 490.4 L110.29 492.46 L110.9 494.51 L111.52 496.56 L112.13 498.6 L112.74 500.64 L113.36 502.67 L113.97 504.7 L114.58 506.72 L115.2 508.73 L115.81 510.74 L116.42 512.73 L117.04 514.72 L117.65 516.7 L118.26 518.67 L118.88 520.63 L119.49 522.57 L120.1 524.51 L120.72 526.44 L121.33 528.35 L121.94 530.25 L122.56 532.15 L123.17 534.02 L123.78 535.89 L124.4 537.74 L125.01 539.58 L125.62 541.41 L126.24 543.22 L126.85 545.02 L127.46 546.8 L128.08 548.57 L128.69 550.33 L129.3 552.06 L129.92 553.79 L130.53 555.49 L131.14 557.18 L131.76 558.85 L132.37 560.51 L132.98 562.15 L133.6 563.77 L134.21 565.38 L134.82 566.96 L135.44 568.53 L136.05 570.08 L136.66 571.62 L137.28 573.14 L137.89 574.63 L138.5 576.11 L139.12 577.58 L139.73 579.02 L140.34 580.44 L140.96 581.85 L141.57 583.24 L142.18 584.61 L142.8 585.96 L143.41 587.3 L144.02 588.61 L144.64 589.91 L145.25 591.18 L145.86 592.44 L146.48 593.68 L147.09 594.9 L147.7 596.11 L148.32 597.29 L148.93 598.46 L149.54 599.61 L150.16 600.74 L150.77 601.85 L151.38 602.95 L152 604.02 L152.61 605.08 L153.22 606.12 L153.84 607.15 L154.45 608.15 L155.06 609.14 L155.68 610.11 L156.29 611.06 L156.9 611.99 L157.52 612.9 L158.13 613.8 L158.74 614.68 L159.36 615.54 L159.97 616.39 L160.58 617.22 L161.2 618.04 L161.81 618.84 L162.42 619.62 L163.04 620.39 L163.65 621.15 L164.26 621.89 L164.88 622.61 L165.49 623.32 L166.1 624.01 L166.72 624.69 L167.33 625.36 L167.94 626.01 L168.56 626.65 L169.17 627.28 L169.78 627.89 L170.4 628.49 L171.01 629.07 L171.62 629.64 L172.24 630.2 L172.85 630.75 L173.46 631.28 L174.08 631.8 L174.69 632.32 L175.3 632.81 L175.92 633.3 L176.53 633.78 L177.14 634.24 L177.76 634.69 L178.37 635.14 L178.98 635.57 L179.6 635.99 L180.21 636.4 L180.82 636.8 L181.44 637.19 L182.05 637.57 L182.66 637.94 L183.28 638.31 L183.89 638.66 L184.5 639 L185.12 639.34 L185.73 639.66 L186.34 639.98 L186.96 640.29 L187.57 640.59 L188.18 640.89 L188.8 641.17 L189.41 641.45 L190.02 641.72 L190.64 641.98 L191.25 642.24 L191.86 642.49 L192.48 642.73 L193.09 642.96 L193.71 643.19 L194.32 643.41 L194.93 643.63 L195.55 643.84 L196.16 644.04 L196.77 644.24 L197.39 644.43 L198 644.62 L198.61 644.8 L199.23 644.98 L199.84 645.15 L200.45 645.31 L201.07 645.47 L201.68 645.63 L202.29 645.78 L202.91 645.92 L203.52 646.06 L204.13 646.2 L204.75 646.33 L205.36 646.46 L205.97 646.59 L206.59 646.71 L207.2 646.83 L207.81 646.94 L208.43 647.05 L209.04 647.16 L209.65 647.26 L210.27 647.36 L210.88 647.45 L211.49 647.55 L212.11 647.64 L212.72 647.72 L213.33 647.81 L213.95 647.89 L214.56 647.97 L215.17 648.04 L215.79 648.12 L216.4 648.19 L217.01 648.26 L217.63 648.32 L218.24 648.39 L218.85 648.45 L219.47 648.51 L220.08 648.57 L220.69 648.62 L221.31 648.68 L221.92 648.73 L222.53 648.78 L223.15 648.83 L223.76 648.87 L224.37 648.92 L224.99 648.96 L225.6 649 L226.21 649.04 L226.83 649.08 L227.44 649.12 L228.05 649.15 L228.67 649.19 L229.28 649.22 L229.89 649.25 L230.51 649.28 L231.12 649.31 L231.73 649.34 L232.35 649.37 L232.96 649.39 L233.57 649.42 L234.19 649.44 L234.8 649.47 L235.41 649.49 L236.03 649.51 L236.64 649.53 L237.25 649.55 L237.87 649.57 L238.48 649.59 L239.09 649.61 L239.71 649.62 L240.32 649.64 L240.93 649.66 L241.55 649.67 L242.16 649.68 L242.77 649.7 L243.39 649.71 L244 649.72 L244.61 649.74 L245.23 649.75 L245.84 649.76 L246.45 649.77 L247.07 649.78 L247.68 649.79 L248.29 649.8 L248.91 649.81 L249.52 649.82 L250.13 649.83 L250.75 649.83 L251.36 649.84 L251.97 649.85 L252.59 649.86 L253.2 649.86 L253.81 649.87 L254.43 649.87 L255.04 649.88 L255.65 649.89 L256.27 649.89 L256.88 649.9 L257.49 649.9 L258.11 649.91 L258.72 649.91 L259.33 649.91 L259.95 649.92 L260.56 649.92 L261.17 649.93 L261.79 649.93 L262.4 649.93 L263.01 649.94 L263.63 649.94 L264.24 649.94 L264.85 649.95 L265.47 649.95 L266.08 649.95 L266.69 649.95 L267.31 649.96 L267.92 649.96 L268.53 649.96 L269.15 649.96 L269.76 649.96 L270.37 649.97 L270.99 649.97 L271.6 649.97 L272.21 649.97 L272.83 649.97 L273.44 649.97 L274.05 649.97 L274.67 649.98 L275.28 649.98 L275.89 649.98 L276.51 649.98 L277.12 649.98 L277.73 649.98 L278.35 649.98 L278.96 649.98 L279.57 649.98 L280.19 649.99 L280.8 649.99 L281.41 649.99 L282.03 649.99 L282.64 649.99 L283.25 649.99 L283.87 649.99 L284.48 649.99 L285.09 649.99 L285.71 649.99 L286.32 649.99 L286.94 649.99 L287.55 649.99 L288.16 649.99 L288.78 649.99 L289.39 649.99 L290 649.99 L290.62 649.99 L291.23 649.99 L291.84 649.99 L292.46 650 L293.07 650 L293.68 650 L294.3 650 L294.91 650 L295.52 650 L296.14 650 L296.75 650 L297.36 650 L297.98 650 L298.59 650 L299.2 650 L299.82 650 L300.43 650 L301.04 650 L301.66 650 L302.27 650 L302.88 650 L303.5 650 L304.11 650 L304.72 650 L305.34 650 L305.95 650 L306.56 650 L307.18 650 L307.79 650 L308.4 650 L309.02 650 L309.63 650 L310.24 650 L310.86 650 L311.47 650 L312.08 650 L312.7 650 L313.31 650 L313.92 650 L314.54 650 L315.15 650 L315.76 650 L316.38 650 L316.99 650 L317.6 650 L318.22 650 L318.83 650 L319.44 650 L320.06 650 L320.67 650 L321.28 650 L321.9 650 L322.51 650 L323.12 650 L323.74 650 L324.35 650 L324.96 650 L325.58 650 L326.19 650 L326.8 650 L327.42 650 L328.03 650 L328.64 650 L329.26 650 L329.87 650 L330.48 650 L331.1 650 L331.71 650 L332.32 650 L332.94 650 L333.55 650 L334.16 650 L334.78 650 L335.39 650 L336 650 L336.62 650 L337.23 650 L337.84 650 L338.46 650 L339.07 650 L339.68 650 L340.3 650 L340.91 650 L341.52 650 L342.14 650 L342.75 650 L343.36 650 L343.98 650 L344.59 650 L345.2 650 L345.82 650 L346.43 650 L347.04 650 L347.66 650 L348.27 650 L348.88 650 L349.5 650 L350.11 650 L350.72 650 L351.34 650 L351.95 650 L352.56 650 L353.18 650 L353.79 650 L354.4 650 L355.02 650 L355.63 650 L356.24 650 L356.86 650 L357.47 650 L358.08 650 L358.7 650 L359.31 650 L359.92 650 L360.54 650 L361.15 650 L361.76 650 L362.38 650 L362.99 650 L363.6 650 L364.22 650 L364.83 650 L365.44 650 L366.06 650 L366.67 650 L367.28 650 L367.9 650 L368.51 650 L369.12 650 L369.74 650 L370.35 650 L370.96 650 L371.58 650 L372.19 650 L372.8 650 L373.42 650 L374.03 650 L374.64 650 L375.26 650 L375.87 650 L376.48 650 L377.1 650 L377.71 650 L378.33 650 L378.94 650 L379.55 650 L380.17 650 L380.78 650 L381.39 650 L382.01 650 L382.62 650 L383.23 650 L383.85 650 L384.46 650 L385.07 650 L385.69 650 L386.3 650 L386.91 650 L387.53 650 L388.14 650 L388.75 650 L389.37 650 L389.98 650 L390.59 650 L391.21 650 L391.82 650 L392.43 650 L393.05 650 L393.66 650 L394.27 650 L394.89 650 L395.5 650 L396.11 650 L396.73 650 L397.34 650 L397.95 650 L398.57 650 L399.18 650 L399.79 650 L400.41 650 L401.02 650 L401.63 650 L402.25 650 L402.86 650 L403.47 650 L404.09 650 L404.7 650 L405.31 650 L405.93 650 L406.54 650 L407.15 650 L407.77 650 L408.38 650 L408.99 650 L409.61 650 L410.22 650 L410.83 650 L411.45 650 L412.06 650 L412.67 650 L413.29 650 L413.9 650 L414.51 650 L415.13 650 L415.74 650 L416.35 650 L416.97 650 L417.58 650 L418.19 650 L418.81 650 L419.42 650 L420.03 650 L420.65 650 L421.26 650 L421.87 650 L422.49 650 L423.1 650" fill="none" stroke="#00ff00" stroke-width="2.3" stroke-dasharray="2.08 3.44" clip-path="url(#c2)" stroke-linejoin="round"/>
<path d="M55.7 368.85 L55.88 369.22 L56.07 369.6 L56.25 370 L56.43 370.41 L56.61 370.83 L56.8 371.26 L56.98 371.7 L57.16 372.15 L57.34 372.62 L57.53 373.09 L57.71 373.57 L57.89 374.07 L58.08 374.57 L58.26 375.09 L58.44 375.62 L58.62 376.17 L58.81 376.73 L58.99 377.3 L59.17 377.89 L59.36 378.48 L59.54 379.09 L59.72 379.71 L59.9 380.33 L60.09 380.97 L60.27 381.61 L60.45 382.26 L60.63 382.92 L60.82 383.58 L61 384.25 L61.18 384.92 L61.37 385.6 L61.55 386.3 L61.73 387 L61.91 387.71 L62.1 388.44 L62.28 389.17 L62.46 389.92 L62.64 390.67 L62.83 391.44 L63.01 392.22 L63.19 393.01 L63.38 393.81 L63.56 394.61 L63.74 395.43 L63.92 396.26 L64.11 397.12 L64.29 398.01 L64.47 398.92 L64.66 399.85 L64.84 400.8 L65.02 401.75 L65.2 402.71 L65.39 403.67 L65.57 404.63 L65.75 405.58 L65.93 406.51 L66.12 407.42 L66.3 408.31 L66.48 409.19 L66.67 410.08 L66.85 410.97 L67.03 411.85 L67.21 412.73 L67.4 413.61 L67.58 414.47 L67.76 415.33 L67.94 416.18 L68.13 417.01 L68.31 417.83 L68.49 418.63 L68.68 419.42 L68.86 420.19 L69.04 420.94 L69.22 421.67 L69.41 422.39 L69.59 423.1 L69.77 423.79 L69.96 424.48 L70.14 425.16 L70.32 425.82 L70.5 426.48 L70.69 427.12 L70.87 427.76 L71.05 428.39 L71.23 429.01 L71.42 429.63 L71.6 430.24 L71.78 430.84 L71.97 431.44 L72.15 432.03 L72.33 432.61 L72.51 433.18 L72.7 433.75 L72.88 434.31 L73.06 434.87 L73.24 435.42 L73.43 435.97 L73.61 436.51 L73.79 437.04 L73.98 437.58 L74.16 438.1 L74.34 438.62 L74.52 439.14 L74.71 439.66 L74.89 440.17 L75.07 440.67 L75.26 441.18 L75.44 441.67 L75.62 442.15 L75.8 442.63 L75.99 443.09 L76.17 443.55 L76.35 444.01 L76.53 444.46 L76.72 444.9 L76.9 445.35 L77.08 445.8 L77.27 446.25 L77.45 446.7 L77.63 447.16 L77.81 447.63 L78 448.1 L78.18 448.59 L78.36 449.08 L78.54 449.59 L78.73 450.11 L78.91 450.63 L79.09 451.15 L79.28 451.68 L79.46 452.22 L79.64 452.76 L79.82 453.32 L80.01 453.89 L80.19 454.48 L80.37 455.08 L80.56 455.7 L80.74 456.34 L80.92 457 L81.1 457.69 L81.29 458.42 L81.47 459.17 L81.65 459.95 L81.83 460.76 L82.02 461.58 L82.2 462.42 L82.38 463.27 L82.57 464.13 L82.75 465 L82.93 465.87 L83.11 466.73 L83.3 467.6 L83.48 468.48 L83.66 469.38 L83.84 470.28 L84.03 471.2 L84.21 472.12 L84.39 473.05 L84.58 473.99 L84.76 474.94 L84.94 475.89 L85.12 476.85 L85.31 477.82 L85.49 478.79 L85.67 479.78 L85.86 480.78 L86.04 481.8 L86.22 482.84 L86.4 483.88 L86.59 484.93 L86.77 485.98 L86.95 487.03 L87.13 488.08 L87.32 489.11 L87.5 490.14 L87.68 491.14 L87.87 492.12 L88.05 493.08 L88.23 493.99 L88.41 494.87 L88.6 495.73 L88.78 496.58 L88.96 497.42 L89.14 498.28 L89.33 499.15 L89.51 500.04 L89.69 500.98 L89.88 501.96 L90.06 503 L90.24 504.1 L90.42 505.32 L90.61 506.63 L90.79 508.04 L90.97 509.51 L91.16 511.03 L91.34 512.58 L91.52 514.13 L91.7 515.67 L91.89 517.18 L92.07 518.64 L92.25 520.03 L92.43 521.35 L92.62 522.64 L92.8 523.91 L92.98 525.15 L93.17 526.38 L93.35 527.6 L93.53 528.8 L93.71 529.99 L93.9 531.18 L94.08 532.36 L94.26 533.54 L94.44 534.72 L94.63 535.91 L94.81 537.1 L94.99 538.31 L95.18 539.54 L95.36 540.77 L95.54 541.99 L95.72 543.18 L95.91 544.32 L96.09 545.39 L96.27 546.44 L96.46 547.45 L96.64 548.44 L96.82 549.4 L97 550.35 L97.19 551.28 L97.37 552.2 L97.55 553.11 L97.73 554.02 L97.92 554.92 L98.1 555.83 L98.28 556.73 L98.47 557.65 L98.65 558.58 L98.83 559.52 L99.01 560.49 L99.2 561.47 L99.38 562.48 L99.56 563.51 L99.74 564.55 L99.93 565.59 L100.11 566.64 L100.29 567.69 L100.48 568.74 L100.66 569.78 L100.84 570.81 L101.02 571.82 L101.21 572.82 L101.39 573.79 L101.57 574.74 L101.76 575.66 L101.94 576.54 L102.12 577.39 L102.3 578.19 L102.49 578.95 L102.67 579.65 L102.85 580.31 L103.03 580.94 L103.22 581.55 L103.4 582.14 L103.58 582.72 L103.77 583.28 L103.95 583.83 L104.13 584.37 L104.31 584.89 L104.5 585.4 L104.68 585.89 L104.86 586.38 L105.04 586.86 L105.23 587.32 L105.41 587.78 L105.59 588.23 L105.78 588.67 L105.96 589.11 L106.14 589.54 L106.32 589.96 L106.51 590.38 L106.69 590.79 L106.87 591.21 L107.06 591.61 L107.24 592.02 L107.42 592.43 L107.6 592.84 L107.79 593.24 L107.97 593.65 L108.15 594.06 L108.33 594.47 L108.52 594.89 L108.7 595.31 L108.88 595.73 L109.07 596.15 L109.25 596.57 L109.43 596.98 L109.61 597.38 L109.8 597.77 L109.98 598.16 L110.16 598.55 L110.34 598.93 L110.53 599.3 L110.71 599.68 L110.89 600.05 L111.08 600.41 L111.26 600.78 L111.44 601.15 L111.62 601.51 L111.81 601.87 L111.99 602.24 L112.17 602.61 L112.36 602.97 L112.54 603.35 L112.72 603.72 L112.9 604.1 L113.09 604.48 L113.27 604.86 L113.45 605.25 L113.63 605.65 L113.82 606.05 L114 606.46 L114.18 606.88 L114.37 607.3 L114.55 607.73 L114.73 608.18 L114.91 608.63 L115.1 609.09 L115.28 609.58 L115.46 610.08 L115.64 610.6 L115.83 611.13 L116.01 611.69 L116.19 612.25 L116.38 612.82 L116.56 613.41 L116.74 614 L116.92 614.6 L117.11 615.2 L117.29 615.8 L117.47 616.41 L117.66 617.02 L117.84 617.63 L118.02 618.23 L118.2 618.83 L118.39 619.42 L118.57 620 L118.75 620.58 L118.93 621.14 L119.12 621.69 L119.3 622.22 L119.48 622.74 L119.67 623.25 L119.85 623.73 L120.03 624.19 L120.21 624.63 L120.4 625.07 L120.58 625.49 L120.76 625.91 L120.94 626.32 L121.13 626.72 L121.31 627.11 L121.49 627.5 L121.68 627.88 L121.86 628.26 L122.04 628.63 L122.22 629 L122.41 629.36 L122.59 629.72 L122.77 630.08 L122.96 630.43 L123.14 630.77 L123.32 631.12 L123.5 631.46 L123.69 631.81 L123.87 632.15 L124.05 632.49 L124.23 632.82 L124.42 633.16 L124.6 633.5 L124.78 633.84 L124.97 634.18 L125.15 634.52 L125.33 634.86 L125.51 635.2 L125.7 635.54 L125.88 635.88 L126.06 636.21 L126.24 636.54 L126.43 636.86 L126.61 637.18 L126.79 637.49 L126.98 637.78 L127.16 638.07 L127.34 638.37 L127.52 638.67 L127.71 638.98 L127.89 639.28 L128.07 639.58 L128.26 639.88 L128.44 640.16 L128.62 640.45 L128.8 640.72 L128.99 640.98 L129.17 641.22 L129.35 641.45 L129.53 641.66 L129.72 641.85 L129.9 642.02 L130.08 642.17 L130.27 642.3 L130.45 642.42 L130.63 642.55 L130.81 642.67 L131 642.78 L131.18 642.9 L131.36 643.01 L131.54 643.11 L131.73 643.22 L131.91 643.32 L132.09 643.41 L132.28 643.5 L132.46 643.59 L132.64 643.68 L132.82 643.76 L133.01 643.84 L133.19 643.92 L133.37 643.99 L133.56 644.05 L133.74 644.12 L133.92 644.18 L134.1 644.23 L134.29 644.29 L134.47 644.33 L134.65 644.38 L134.83 644.42 L135.02 644.45 L135.2 644.49 L135.38 644.52 L135.57 644.54 L135.75 644.57 L135.93 644.6 L136.11 644.62 L136.3 644.64 L136.48 644.67 L136.66 644.69 L136.84 644.71 L137.03 644.73 L137.21 644.74 L137.39 644.76 L137.58 644.78 L137.76 644.79 L137.94 644.81 L138.12 644.82 L138.31 644.84 L138.49 644.85 L138.67 644.86 L138.86 644.88 L139.04 644.89 L139.22 644.9 L139.4 644.91 L139.59 644.93 L139.77 644.94 L139.95 644.95 L140.13 644.96 L140.32 644.98 L140.5 644.99 L140.68 645 L140.87 645.02 L141.05 645.03 L141.23 645.04 L141.41 645.06 L141.6 645.07 L141.78 645.09 L141.96 645.11 L142.14 645.12 L142.33 645.14 L142.51 645.16 L142.69 645.18 L142.88 645.2 L143.06 645.23 L143.24 645.25 L143.42 645.27 L143.61 645.3 L143.79 645.33 L143.97 645.35 L144.16 645.38 L144.34 645.41 L144.52 645.45 L144.7 645.48 L144.89 645.51 L145.07 645.55 L145.25 645.58 L145.43 645.62 L145.62 645.66 L145.8 645.69 L145.98 645.73 L146.17 645.77 L146.35 645.81 L146.53 645.85 L146.71 645.89 L146.9 645.94 L147.08 645.98 L147.26 646.02 L147.44 646.06 L147.63 646.11 L147.81 646.15 L147.99 646.19 L148.18 646.24 L148.36 646.28 L148.54 646.33 L148.72 646.37 L148.91 646.42 L149.09 646.46 L149.27 646.51 L149.46 646.55 L149.64 646.6 L149.82 646.65 L150 646.7 L150.19 646.75 L150.37 646.8 L150.55 646.86 L150.73 646.91 L150.92 646.97 L151.1 647.03 L151.28 647.09 L151.47 647.15 L151.65 647.21 L151.83 647.27 L152.01 647.33 L152.2 647.39 L152.38 647.45 L152.56 647.51 L152.74 647.57 L152.93 647.63 L153.11 647.69 L153.29 647.75 L153.48 647.81 L153.66 647.86 L153.84 647.92 L154.02 647.97 L154.21 648.02 L154.39 648.07 L154.57 648.12 L154.76 648.17 L154.94 648.21 L155.12 648.25 L155.3 648.29 L155.49 648.33 L155.67 648.37 L155.85 648.4 L156.03 648.44 L156.22 648.47 L156.4 648.51 L156.58 648.54 L156.77 648.58 L156.95 648.61 L157.13 648.65 L157.31 648.68 L157.5 648.72 L157.68 648.75 L157.86 648.79 L158.04 648.82 L158.23 648.85 L158.41 648.89 L158.59 648.92 L158.78 648.95 L158.96 648.98 L159.14 649.01 L159.32 649.05 L159.51 649.08 L159.69 649.11 L159.87 649.14 L160.06 649.17 L160.24 649.19 L160.42 649.22 L160.6 649.25 L160.79 649.28 L160.97 649.31 L161.15 649.33 L161.33 649.36 L161.52 649.38 L161.7 649.41 L161.88 649.43 L162.07 649.45 L162.25 649.48 L162.43 649.5 L162.61 649.52 L162.8 649.54 L162.98 649.56 L163.16 649.58 L163.34 649.6 L163.53 649.61 L163.71 649.63 L163.89 649.64 L164.08 649.66 L164.26 649.67 L164.44 649.69 L164.62 649.7 L164.81 649.71 L164.99 649.72 L165.17 649.73 L165.36 649.73 L165.54 649.74 L165.72 649.75 L165.9 649.75 L166.09 649.76 L166.27 649.77 L166.45 649.77 L166.63 649.78 L166.82 649.78 L167 649.79 L167.18 649.79 L167.37 649.8 L167.55 649.8 L167.73 649.81 L167.91 649.82 L168.1 649.82 L168.28 649.83 L168.46 649.83 L168.64 649.84 L168.83 649.84 L169.01 649.85 L169.19 649.85 L169.38 649.86 L169.56 649.86 L169.74 649.86 L169.92 649.87 L170.11 649.87 L170.29 649.88 L170.47 649.88 L170.66 649.89 L170.84 649.89 L171.02 649.89 L171.2 649.9 L171.39 649.9 L171.57 649.91 L171.75 649.91 L171.93 649.91 L172.12 649.92 L172.3 649.92 L172.48 649.93 L172.67 649.93 L172.85 649.93 L173.03 649.94 L173.21 649.94 L173.4 649.94 L173.58 649.95 L173.76 649.95 L173.94 649.95 L174.13 649.95 L174.31 649.96 L174.49 649.96 L174.68 649.96 L174.86 649.96 L175.04 649.97 L175.22 649.97 L175.41 649.97 L175.59 649.97 L175.77 649.98 L175.96 649.98 L176.14 649.98 L176.32 649.98 L176.5 649.98 L176.69 649.98 L176.87 649.99 L177.05 649.99 L177.23 649.99 L177.42 649.99 L177.6 649.99 L177.78 649.99 L177.97 649.99 L178.15 650 L178.33 650 L178.51 650 L178.7 650 L178.88 650 L179.06 650 L179.24 650 L179.43 650 L179.61 650 L179.79 650 L179.98 650 L180.16 650 L180.34 650 L180.52 650 L180.71 650 L180.89 650 L181.07 650 L181.26 650 L181.44 650 L181.62 650 L181.8 650 L181.99 650 L182.17 650 L182.35 650 L182.53 650 L182.72 650 L182.9 650 L183.08 650 L183.27 650 L183.45 650 L183.63 650 L183.81 650 L184 650 L184.18 650 L184.36 650 L184.54 650 L184.73 650 L184.91 650 L185.09 650 L185.28 650 L185.46 650 L185.64 650 L185.82 650 L186.01 650 L186.19 650 L186.37 650 L186.56 650 L186.74 650 L186.92 650 L187.1 650 L187.29 650 L187.47 650 L187.65 650 L187.83 650 L188.02 650 L188.2 650 L188.38 650 L188.57 650 L188.75 650 L188.93 650 L189.11 650 L189.3 650 L189.48 650 L189.66 650 L189.84 650 L190.03 650 L190.21 650 L190.39 650 L190.58 650 L190.76 650 L190.94 650 L191.12 650 L191.31 650 L191.49 650 L191.67 650 L191.86 650 L192.04 650 L192.22 650 L192.4 650 L192.59 650 L192.77 650 L192.95 650 L193.13 650 L193.32 650 L193.5 650 L193.68 650 L193.87 650 L194.05 650 L194.23 650 L194.41 650 L194.6 650 L194.78 650 L194.96 650 L195.14 650 L195.33 650 L195.51 650 L195.69 650 L195.88 650 L196.06 650 L196.24 650 L196.42 650 L196.61 650 L196.79 650 L196.97 650 L197.16 650 L197.34 650 L197.52 650 L197.7 650 L197.89 650 L198.07 650 L198.25 650 L198.43 650 L198.62 650 L198.8 650 L198.98 650 L199.17 650 L199.35 650 L199.53 650 L199.71 650 L199.9 650 L200.08 650 L200.26 650 L200.44 650 L200.63 650 L200.81 650 L200.99 650 L201.18 650 L201.36 650 L201.54 650 L201.72 650 L201.91 650 L202.09 650 L202.27 650 L202.46 650 L202.64 650 L202.82 650 L203 650 L203.19 650 L203.37 650 L203.55 650 L203.73 650 L203.92 650 L204.1 650 L204.28 650 L204.47 650 L204.65 650 L204.83 650 L205.01 650 L205.2 650 L205.38 650 L205.56 650 L205.74 650 L205.93 650 L206.11 650 L206.29 650 L206.48 650 L206.66 650 L206.84 650 L207.02 650 L207.21 650 L207.39 650 L207.57 650 L207.76 650 L207.94 650 L208.12 650 L208.3 650 L208.49 650 L208.67 650 L208.85 650 L209.03 650 L209.22 650 L209.4 650 L209.58 650 L209.77 650 L209.95 650 L210.13 650 L210.31 650 L210.5 650 L210.68 650 L210.86 650 L211.04 650 L211.23 650 L211.41 650 L211.59 650 L211.78 650 L211.96 650 L212.14 650 L212.32 650 L212.51 650 L212.69 650 L212.87 650 L213.06 650 L213.24 650 L213.42 650 L213.6 650 L213.79 650 L213.97 650 L214.15 650 L214.33 650 L214.52 650 L214.7 650 L214.88 650 L215.07 650 L215.25 650 L215.43 650 L215.61 650 L215.8 650 L215.98 650 L216.16 650 L216.34 650 L216.53 650 L216.71 650 L216.89 650 L217.08 650 L217.26 650 L217.44 650 L217.62 650 L217.81 650 L217.99 650 L218.17 650 L218.36 650 L218.54 650 L218.72 650 L218.9 650 L219.09 650 L219.27 650 L219.45 650 L219.63 650 L219.82 650 L220 650 L223.44 650 L226.88 650 L230.33 650 L233.77 650 L237.21 650 L240.65 650 L244.1 650 L247.54 650 L250.98 650 L254.42 650 L257.87 650 L261.31 650 L264.75 650 L268.19 650 L271.64 650 L275.08 650 L278.52 650 L281.96 650 L285.41 650 L288.85 650 L292.29 650 L295.73 650 L299.17 650 L302.62 650 L306.06 650 L309.5 650 L312.94 650 L316.39 650 L319.83 650 L323.27 650 L326.71 650 L330.16 650 L333.6 650 L337.04 650 L340.48 650 L343.93 650 L347.37 650 L350.81 650 L354.25 650 L357.69 650 L361.14 650 L364.58 650 L368.02 650 L371.46 650 L374.91 650 L378.35 650 L381.79 650 L385.23 650 L388.68 650 L392.12 650 L395.56 650 L399 650 L402.45 650 L405.89 650 L409.33 650 L412.77 650 L416.22 650 L419.66 650 L423.1 650" fill="none" stroke="#0000ff" stroke-width="2.3" stroke-linecap="square" clip-path="url(#c2)" stroke-linejoin="round"/>
<path d="M55.7 368.85 L55.88 369 L56.07 369.4 L56.25 369.99 L56.43 370.75 L56.61 371.63 L56.8 372.59 L56.98 373.6 L57.16 374.77 L57.34 376.3 L57.53 378.13 L57.71 380.21 L57.89 382.51 L58.08 384.96 L58.26 387.54 L58.44 390.17 L58.62 392.91 L58.81 395.93 L58.99 399.21 L59.17 402.73 L59.36 406.44 L59.54 410.31 L59.72 414.29 L59.9 418.35 L60.09 422.49 L60.27 426.92 L60.45 431.59 L60.63 436.42 L60.82 441.3 L61 446.15 L61.18 450.99 L61.37 455.9 L61.55 460.84 L61.73 465.8 L61.91 470.76 L62.1 475.72 L62.28 480.71 L62.46 485.7 L62.64 490.68 L62.83 495.61 L63.01 500.47 L63.19 505.34 L63.38 510.33 L63.56 515.56 L63.74 521.2 L63.92 527.04 L64.11 532.8 L64.29 538.17 L64.47 543.2 L64.66 548.14 L64.84 552.99 L65.02 557.75 L65.2 562.38 L65.39 566.9 L65.57 571.27 L65.75 575.5 L65.93 579.57 L66.12 583.47 L66.3 587.18 L66.48 590.81 L66.67 594.46 L66.85 598.06 L67.03 601.59 L67.21 605.01 L67.4 608.26 L67.58 611.3 L67.76 614.1 L67.94 616.61 L68.13 618.8 L68.31 620.61 L68.49 622.2 L68.68 623.69 L68.86 625.04 L69.04 626.23 L69.22 627.21 L69.41 627.94 L69.59 628.42 L69.77 628.84 L69.96 629.19 L70.14 629.42 L70.32 629.49 L70.5 629.4 L70.69 629.2 L70.87 628.9 L71.05 628.54 L71.23 628.12 L71.42 627.42 L71.6 626.38 L71.78 625.07 L71.97 623.56 L72.15 621.92 L72.33 620.22 L72.51 618.21 L72.7 615.8 L72.88 613.06 L73.06 610.07 L73.24 606.89 L73.43 603.6 L73.61 600.28 L73.79 596.98 L73.98 593.79 L74.16 590.77 L74.34 588 L74.52 585.5 L74.71 583.15 L74.89 580.9 L75.07 578.75 L75.26 576.67 L75.44 574.64 L75.62 572.65 L75.8 570.68 L75.99 568.71 L76.17 566.71 L76.35 564.68 L76.53 562.58 L76.72 560.41 L76.9 558.14 L77.08 555.76 L77.27 553.24 L77.45 550.56 L77.63 547.66 L77.81 544.55 L78 541.27 L78.18 537.84 L78.36 534.31 L78.54 530.71 L78.73 527.08 L78.91 523.39 L79.09 519.47 L79.28 515.38 L79.46 511.21 L79.64 507.08 L79.82 503.06 L80.01 499.26 L80.19 495.73 L80.37 492.32 L80.56 489 L80.74 485.81 L80.92 482.75 L81.1 479.84 L81.29 477.12 L81.47 474.5 L81.65 471.87 L81.83 469.29 L82.02 466.78 L82.2 464.4 L82.38 462.18 L82.57 460.16 L82.75 458.38 L82.93 456.89 L83.11 455.66 L83.3 454.45 L83.48 453.28 L83.66 452.15 L83.84 451.09 L84.03 450.13 L84.21 449.28 L84.39 448.56 L84.58 448.01 L84.76 447.63 L84.94 447.45 L85.12 447.51 L85.31 447.87 L85.49 448.47 L85.67 449.26 L85.86 450.17 L86.04 451.15 L86.22 452.15 L86.4 453.09 L86.59 454.03 L86.77 455 L86.95 456.03 L87.13 457.1 L87.32 458.23 L87.5 459.41 L87.68 460.65 L87.87 461.94 L88.05 463.28 L88.23 464.69 L88.41 466.16 L88.6 467.7 L88.78 469.29 L88.96 470.97 L89.14 472.87 L89.33 474.99 L89.51 477.3 L89.69 479.73 L89.88 482.26 L90.06 484.82 L90.24 487.37 L90.42 489.87 L90.61 492.27 L90.79 494.58 L90.97 496.85 L91.16 499.11 L91.34 501.36 L91.52 503.63 L91.7 505.93 L91.89 508.27 L92.07 510.68 L92.25 513.17 L92.43 515.75 L92.62 518.39 L92.8 521.1 L92.98 523.87 L93.17 526.72 L93.35 529.65 L93.53 532.66 L93.71 535.75 L93.9 539 L94.08 542.43 L94.26 546 L94.44 549.68 L94.63 553.41 L94.81 557.16 L94.99 560.89 L95.18 564.56 L95.36 568.12 L95.54 571.54 L95.72 574.78 L95.91 577.89 L96.09 580.95 L96.27 583.95 L96.46 586.9 L96.64 589.8 L96.82 592.66 L97 595.48 L97.19 598.26 L97.37 601.01 L97.55 603.73 L97.73 606.42 L97.92 609.09 L98.1 611.74 L98.28 614.38 L98.47 617.01 L98.65 619.62 L98.83 622.24 L99.01 624.99 L99.2 627.89 L99.38 630.83 L99.56 633.74 L99.74 636.53 L99.93 639.11 L100.11 641.39 L100.29 643.29 L100.48 644.72 L100.66 645.81 L100.84 646.85 L101.02 647.81 L101.21 648.65 L101.39 649.32 L101.57 649.78 L101.76 649.99 L101.94 649.89 L102.12 649.46 L102.3 648.75 L102.49 647.85 L102.67 646.82 L102.85 645.74 L103.03 644.67 L103.22 643.47 L103.4 642.06 L103.58 640.48 L103.77 638.76 L103.95 636.92 L104.13 635 L104.31 633.03 L104.5 631.03 L104.68 629.04 L104.86 627.08 L105.04 625.18 L105.23 623.23 L105.41 621.2 L105.59 619.1 L105.78 616.94 L105.96 614.75 L106.14 612.53 L106.32 610.31 L106.51 608.09 L106.69 605.9 L106.87 603.75 L107.06 601.66 L107.24 599.63 L107.42 597.7 L107.6 595.86 L107.79 594.15 L107.97 592.56 L108.15 591.08 L108.33 589.63 L108.52 588.21 L108.7 586.82 L108.88 585.47 L109.07 584.15 L109.25 582.87 L109.43 581.63 L109.61 580.44 L109.8 579.29 L109.98 578.19 L110.16 577.14 L110.34 576.15 L110.53 575.22 L110.71 574.34 L110.89 573.52 L111.08 572.77 L111.26 572.03 L111.44 571.31 L111.62 570.61 L111.81 569.92 L111.99 569.26 L112.17 568.62 L112.36 568.01 L112.54 567.43 L112.72 566.87 L112.9 566.36 L113.09 565.87 L113.27 565.43 L113.45 565.03 L113.63 564.67 L113.82 564.36 L114 564.1 L114.18 563.87 L114.37 563.64 L114.55 563.41 L114.73 563.19 L114.91 562.99 L115.1 562.79 L115.28 562.61 L115.46 562.45 L115.64 562.3 L115.83 562.18 L116.01 562.07 L116.19 562 L116.38 561.95 L116.56 561.92 L116.74 561.95 L116.92 562.05 L117.11 562.23 L117.29 562.48 L117.47 562.78 L117.66 563.14 L117.84 563.54 L118.02 563.98 L118.2 564.45 L118.39 564.94 L118.57 565.45 L118.75 565.96 L118.93 566.48 L119.12 567.01 L119.3 567.62 L119.48 568.31 L119.67 569.06 L119.85 569.88 L120.03 570.75 L120.21 571.68 L120.4 572.65 L120.58 573.66 L120.76 574.69 L120.94 575.76 L121.13 576.84 L121.31 577.93 L121.49 579.03 L121.68 580.13 L121.86 581.22 L122.04 582.3 L122.22 583.41 L122.41 584.57 L122.59 585.78 L122.77 587.02 L122.96 588.3 L123.14 589.59 L123.32 590.91 L123.5 592.23 L123.69 593.56 L123.87 594.88 L124.05 596.19 L124.23 597.49 L124.42 598.76 L124.6 600 L124.78 601.2 L124.97 602.35 L125.15 603.47 L125.33 604.58 L125.51 605.67 L125.7 606.76 L125.88 607.83 L126.06 608.9 L126.24 609.94 L126.43 610.98 L126.61 612 L126.79 613.01 L126.98 614 L127.16 614.97 L127.34 615.93 L127.52 616.87 L127.71 617.79 L127.89 618.69 L128.07 619.58 L128.26 620.47 L128.44 621.38 L128.62 622.28 L128.8 623.18 L128.99 624.07 L129.17 624.95 L129.35 625.82 L129.53 626.66 L129.72 627.47 L129.9 628.26 L130.08 629.01 L130.27 629.72 L130.45 630.38 L130.63 630.99 L130.81 631.55 L131 632.04 L131.18 632.51 L131.36 632.98 L131.54 633.44 L131.73 633.91 L131.91 634.36 L132.09 634.8 L132.28 635.23 L132.46 635.64 L132.64 636.03 L132.82 636.39 L133.01 636.72 L133.19 637.02 L133.37 637.29 L133.56 637.51 L133.74 637.7 L133.92 637.83 L134.1 637.92 L134.29 637.95 L134.47 637.85 L134.65 637.52 L134.83 637 L135.02 636.31 L135.2 635.48 L135.38 634.53 L135.57 633.48 L135.75 632.38 L135.93 631.23 L136.11 630.07 L136.3 628.93 L136.48 627.82 L136.66 626.78 L136.84 625.84 L137.03 625.01 L137.21 624.32 L137.39 623.72 L137.58 623.13 L137.76 622.55 L137.94 621.99 L138.12 621.43 L138.31 620.89 L138.49 620.37 L138.67 619.86 L138.86 619.36 L139.04 618.87 L139.22 618.4 L139.4 617.94 L139.59 617.49 L139.77 617.06 L139.95 616.64 L140.13 616.24 L140.32 615.84 L140.5 615.47 L140.68 615.1 L140.87 614.75 L141.05 614.42 L141.23 614.09 L141.41 613.78 L141.6 613.47 L141.78 613.16 L141.96 612.85 L142.14 612.55 L142.33 612.25 L142.51 611.95 L142.69 611.66 L142.88 611.38 L143.06 611.11 L143.24 610.85 L143.42 610.59 L143.61 610.35 L143.79 610.12 L143.97 609.91 L144.16 609.71 L144.34 609.52 L144.52 609.35 L144.7 609.2 L144.89 609.07 L145.07 608.96 L145.25 608.87 L145.43 608.79 L145.62 608.72 L145.8 608.65 L145.98 608.58 L146.17 608.52 L146.35 608.46 L146.53 608.4 L146.71 608.35 L146.9 608.31 L147.08 608.27 L147.26 608.24 L147.44 608.22 L147.63 608.21 L147.81 608.21 L147.99 608.22 L148.18 608.27 L148.36 608.34 L148.54 608.43 L148.72 608.55 L148.91 608.68 L149.09 608.83 L149.27 609 L149.46 609.18 L149.64 609.38 L149.82 609.58 L150 609.79 L150.19 610 L150.37 610.22 L150.55 610.44 L150.73 610.66 L150.92 610.87 L151.1 611.08 L151.28 611.29 L151.47 611.48 L151.65 611.68 L151.83 611.88 L152.01 612.09 L152.2 612.31 L152.38 612.53 L152.56 612.76 L152.74 612.99 L152.93 613.23 L153.11 613.47 L153.29 613.71 L153.48 613.95 L153.66 614.2 L153.84 614.45 L154.02 614.69 L154.21 614.94 L154.39 615.19 L154.57 615.44 L154.76 615.69 L154.94 615.93 L155.12 616.17 L155.3 616.41 L155.49 616.65 L155.67 616.89 L155.85 617.13 L156.03 617.38 L156.22 617.63 L156.4 617.89 L156.58 618.15 L156.77 618.41 L156.95 618.67 L157.13 618.93 L157.31 619.19 L157.5 619.45 L157.68 619.7 L157.86 619.95 L158.04 620.19 L158.23 620.42 L158.41 620.65 L158.59 620.87 L158.78 621.08 L158.96 621.28 L159.14 621.47 L159.32 621.64 L159.51 621.8 L159.69 621.95 L159.87 622.1 L160.06 622.25 L160.24 622.4 L160.42 622.54 L160.6 622.68 L160.79 622.81 L160.97 622.95 L161.15 623.07 L161.33 623.2 L161.52 623.32 L161.7 623.44 L161.88 623.55 L162.07 623.66 L162.25 623.76 L162.43 623.86 L162.61 623.95 L162.8 624.04 L162.98 624.12 L163.16 624.2 L163.34 624.27 L163.53 624.34 L163.71 624.39 L163.89 624.45 L164.08 624.51 L164.26 624.57 L164.44 624.63 L164.62 624.69 L164.81 624.74 L164.99 624.8 L165.17 624.85 L165.36 624.9 L165.54 624.95 L165.72 624.99 L165.9 625.03 L166.09 625.07 L166.27 625.11 L166.45 625.14 L166.63 625.17 L166.82 625.2 L167 625.22 L167.18 625.24 L167.37 625.25 L167.55 625.25 L167.73 625.26 L167.91 625.25 L168.1 625.24 L168.28 625.21 L168.46 625.18 L168.64 625.15 L168.83 625.11 L169.01 625.06 L169.19 625 L169.38 624.94 L169.56 624.88 L169.74 624.81 L169.92 624.73 L170.11 624.66 L170.29 624.58 L170.47 624.5 L170.66 624.41 L170.84 624.33 L171.02 624.24 L171.2 624.15 L171.39 624.06 L171.57 623.98 L171.75 623.89 L171.93 623.8 L172.12 623.72 L172.3 623.63 L172.48 623.55 L172.67 623.47 L172.85 623.4 L173.03 623.33 L173.21 623.26 L173.4 623.2 L173.58 623.14 L173.76 623.09 L173.94 623.04 L174.13 622.99 L174.31 622.94 L174.49 622.89 L174.68 622.84 L174.86 622.78 L175.04 622.73 L175.22 622.68 L175.41 622.63 L175.59 622.57 L175.77 622.52 L175.96 622.47 L176.14 622.42 L176.32 622.37 L176.5 622.32 L176.69 622.28 L176.87 622.23 L177.05 622.18 L177.23 622.14 L177.42 622.1 L177.6 622.06 L177.78 622.02 L177.97 621.99 L178.15 621.96 L178.33 621.93 L178.51 621.9 L178.7 621.87 L178.88 621.85 L179.06 621.83 L179.24 621.82 L179.43 621.81 L179.61 621.8 L179.79 621.8 L179.98 621.8 L180.16 621.8 L180.34 621.8 L180.52 621.81 L180.71 621.82 L180.89 621.83 L181.07 621.84 L181.26 621.85 L181.44 621.87 L181.62 621.89 L181.8 621.91 L181.99 621.93 L182.17 621.95 L182.35 621.97 L182.53 622 L182.72 622.02 L182.9 622.05 L183.08 622.08 L183.27 622.11 L183.45 622.14 L183.63 622.17 L183.81 622.2 L184 622.23 L184.18 622.26 L184.36 622.29 L184.54 622.32 L184.73 622.35 L184.91 622.38 L185.09 622.41 L185.28 622.44 L185.46 622.48 L185.64 622.51 L185.82 622.54 L186.01 622.57 L186.19 622.59 L186.37 622.63 L186.56 622.66 L186.74 622.69 L186.92 622.73 L187.1 622.76 L187.29 622.8 L187.47 622.83 L187.65 622.87 L187.83 622.91 L188.02 622.95 L188.2 622.99 L188.38 623.03 L188.57 623.07 L188.75 623.11 L188.93 623.16 L189.11 623.2 L189.3 623.24 L189.48 623.29 L189.66 623.33 L189.84 623.37 L190.03 623.42 L190.21 623.46 L190.39 623.51 L190.58 623.55 L190.76 623.6 L190.94 623.64 L191.12 623.69 L191.31 623.73 L191.49 623.78 L191.67 623.82 L191.86 623.86 L192.04 623.91 L192.22 623.95 L192.4 623.99 L192.59 624.04 L192.77 624.08 L192.95 624.12 L193.13 624.16 L193.32 624.2 L193.5 624.24 L193.68 624.28 L193.87 624.31 L194.05 624.35 L194.23 624.38 L194.41 624.42 L194.6 624.46 L194.78 624.49 L194.96 624.53 L195.14 624.56 L195.33 624.6 L195.51 624.63 L195.69 624.67 L195.88 624.7 L196.06 624.74 L196.24 624.77 L196.42 624.81 L196.61 624.84 L196.79 624.87 L196.97 624.91 L197.16 624.94 L197.34 624.98 L197.52 625.01 L197.7 625.04 L197.89 625.07 L198.07 625.11 L198.25 625.14 L198.43 625.17 L198.62 625.2 L198.8 625.24 L198.98 625.27 L199.17 625.3 L199.35 625.33 L199.53 625.36 L199.71 625.39 L199.9 625.42 L200.08 625.45 L200.26 625.48 L200.44 625.51 L200.63 625.54 L200.81 625.57 L200.99 625.59 L201.18 625.62 L201.36 625.65 L201.54 625.68 L201.72 625.7 L201.91 625.73 L202.09 625.75 L202.27 625.78 L202.46 625.8 L202.64 625.83 L202.82 625.85 L203 625.88 L203.19 625.9 L203.37 625.93 L203.55 625.95 L203.73 625.98 L203.92 626 L204.1 626.02 L204.28 626.05 L204.47 626.07 L204.65 626.09 L204.83 626.12 L205.01 626.14 L205.2 626.16 L205.38 626.18 L205.56 626.21 L205.74 626.23 L205.93 626.25 L206.11 626.27 L206.29 626.3 L206.48 626.32 L206.66 626.34 L206.84 626.36 L207.02 626.38 L207.21 626.4 L207.39 626.42 L207.57 626.45 L207.76 626.47 L207.94 626.49 L208.12 626.51 L208.3 626.53 L208.49 626.55 L208.67 626.57 L208.85 626.59 L209.03 626.61 L209.22 626.63 L209.4 626.65 L209.58 626.67 L209.77 626.69 L209.95 626.71 L210.13 626.73 L210.31 626.75 L210.5 626.77 L210.68 626.79 L210.86 626.81 L211.04 626.83 L211.23 626.85 L211.41 626.87 L211.59 626.88 L211.78 626.9 L211.96 626.92 L212.14 626.94 L212.32 626.96 L212.51 626.98 L212.69 627 L212.87 627.02 L213.06 627.03 L213.24 627.05 L213.42 627.07 L213.6 627.09 L213.79 627.11 L213.97 627.13 L214.15 627.14 L214.33 627.16 L214.52 627.18 L214.7 627.2 L214.88 627.22 L215.07 627.23 L215.25 627.25 L215.43 627.27 L215.61 627.29 L215.8 627.3 L215.98 627.32 L216.16 627.34 L216.34 627.36 L216.53 627.37 L216.71 627.39 L216.89 627.41 L217.08 627.43 L217.26 627.44 L217.44 627.46 L217.62 627.48 L217.81 627.5 L217.99 627.51 L218.17 627.53 L218.36 627.55 L218.54 627.57 L218.72 627.58 L218.9 627.6 L219.09 627.62 L219.27 627.64 L219.45 627.65 L219.63 627.67 L219.82 627.69 L220 627.71 L223.44 628.04 L226.88 628.38 L230.33 628.75 L233.77 629.15 L237.21 629.55 L240.65 629.96 L244.1 630.38 L247.54 630.8 L250.98 631.21 L254.42 631.62 L257.87 632.02 L261.31 632.43 L264.75 632.84 L268.19 633.26 L271.64 633.67 L275.08 634.08 L278.52 634.49 L281.96 634.9 L285.41 635.29 L288.85 635.67 L292.29 636.04 L295.73 636.39 L299.17 636.72 L302.62 637.03 L306.06 637.33 L309.5 637.62 L312.94 637.9 L316.39 638.17 L319.83 638.44 L323.27 638.69 L326.71 638.95 L330.16 639.19 L333.6 639.43 L337.04 639.67 L340.48 639.9 L343.93 640.13 L347.37 640.36 L350.81 640.58 L354.25 640.79 L357.69 641.01 L361.14 641.21 L364.58 641.42 L368.02 641.62 L371.46 641.82 L374.91 642.02 L378.35 642.21 L381.79 642.41 L385.23 642.6 L388.68 642.8 L392.12 642.99 L395.56 643.18 L399 643.36 L402.45 643.55 L405.89 643.73 L409.33 643.91 L412.77 644.09 L416.22 644.27 L419.66 644.44 L423.1 644.62" fill="none" stroke="#ff00ff" stroke-width="2.3" stroke-dasharray="13.33 3.33 2.08 3.33" clip-path="url(#c2)" stroke-linejoin="round"/>
<path d="M55.7 368.85 L55.88 369 L56.07 369.4 L56.25 369.99 L56.43 370.75 L56.61 371.63 L56.8 372.59 L56.98 373.6 L57.16 374.77 L57.34 376.3 L57.53 378.13 L57.71 380.21 L57.89 382.51 L58.08 384.96 L58.26 387.54 L58.44 390.17 L58.62 392.91 L58.81 395.93 L58.99 399.21 L59.17 402.73 L59.36 406.44 L59.54 410.31 L59.72 414.29 L59.9 418.35 L60.09 422.49 L60.27 426.92 L60.45 431.59 L60.63 436.42 L60.82 441.3 L61 446.15 L61.18 450.99 L61.37 455.9 L61.55 460.84 L61.73 465.8 L61.91 470.76 L62.1 475.72 L62.28 480.71 L62.46 485.7 L62.64 490.68 L62.83 495.61 L63.01 500.47 L63.19 505.34 L63.38 510.33 L63.56 515.56 L63.74 521.16 L63.92 526.95 L64.11 532.7 L64.29 538.17 L64.47 543.36 L64.66 548.5 L64.84 553.58 L65.02 558.57 L65.2 563.48 L65.39 568.3 L65.57 573 L65.75 577.59 L65.93 582.04 L66.12 586.35 L66.3 590.51 L66.48 594.57 L66.67 598.58 L66.85 602.52 L67.03 606.37 L67.21 610.13 L67.4 613.77 L67.58 617.29 L67.76 620.66 L67.94 623.87 L68.13 626.92 L68.31 629.77 L68.49 632.54 L68.68 635.26 L68.86 637.86 L69.04 640.26 L69.22 642.37 L69.41 644.14 L69.59 645.53 L69.77 646.87 L69.96 648.04 L70.14 648.84 L70.32 649.1 L70.5 648.8 L70.69 648.09 L70.87 647.08 L71.05 645.89 L71.23 644.62 L71.42 642.89 L71.6 640.62 L71.78 637.95 L71.97 635.04 L72.15 632.05 L72.33 629.13 L72.51 626.08 L72.7 622.82 L72.88 619.37 L73.06 615.8 L73.24 612.14 L73.43 608.47 L73.61 604.81 L73.79 601.23 L73.98 597.78 L74.16 594.49 L74.34 591.44 L74.52 588.62 L74.71 585.97 L74.89 583.45 L75.07 581.05 L75.26 578.74 L75.44 576.5 L75.62 574.31 L75.8 572.15 L75.99 570 L76.17 567.83 L76.35 565.63 L76.53 563.37 L76.72 561.04 L76.9 558.61 L77.08 556.06 L77.27 553.36 L77.45 550.51 L77.63 547.49 L77.81 544.31 L78 540.98 L78.18 537.5 L78.36 533.89 L78.54 530.15 L78.73 526.3 L78.91 522.26 L79.09 517.8 L79.28 513.03 L79.46 508.13 L79.64 503.25 L79.82 498.56 L80.01 494.21 L80.19 490.32 L80.37 486.65 L80.56 483.14 L80.74 479.79 L80.92 476.59 L81.1 473.53 L81.29 470.6 L81.47 467.75 L81.65 464.92 L81.83 462.15 L82.02 459.46 L82.2 456.87 L82.38 454.41 L82.57 452.11 L82.75 450 L82.93 448.09 L83.11 446.37 L83.3 444.61 L83.48 442.84 L83.66 441.1 L83.84 439.44 L84.03 437.9 L84.21 436.52 L84.39 435.35 L84.58 434.42 L84.76 433.79 L84.94 433.48 L85.12 433.53 L85.31 433.88 L85.49 434.49 L85.67 435.32 L85.86 436.34 L86.04 437.51 L86.22 438.81 L86.4 440.19 L86.59 441.62 L86.77 443.07 L86.95 444.5 L87.13 445.95 L87.32 447.59 L87.5 449.39 L87.68 451.34 L87.87 453.42 L88.05 455.6 L88.23 457.88 L88.41 460.23 L88.6 462.63 L88.78 465.06 L88.96 467.5 L89.14 470.02 L89.33 472.65 L89.51 475.37 L89.69 478.19 L89.88 481.11 L90.06 484.12 L90.24 487.23 L90.42 490.43 L90.61 493.72 L90.79 497.21 L90.97 500.94 L91.16 504.84 L91.34 508.82 L91.52 512.82 L91.7 516.74 L91.89 520.69 L92.07 524.78 L92.25 528.96 L92.43 533.17 L92.62 537.37 L92.8 541.51 L92.98 545.54 L93.17 549.41 L93.35 553.08 L93.53 556.48 L93.71 559.58 L93.9 562.47 L94.08 565.23 L94.26 567.89 L94.44 570.43 L94.63 572.87 L94.81 575.22 L94.99 577.47 L95.18 579.63 L95.36 581.71 L95.54 583.71 L95.72 585.63 L95.91 587.48 L96.09 589.25 L96.27 590.95 L96.46 592.58 L96.64 594.16 L96.82 595.69 L97 597.19 L97.19 598.65 L97.37 600.1 L97.55 601.52 L97.73 602.95 L97.92 604.37 L98.1 605.81 L98.28 607.26 L98.47 608.74 L98.65 610.25 L98.83 611.81 L99.01 613.45 L99.2 615.18 L99.38 616.98 L99.56 618.8 L99.74 620.62 L99.93 622.41 L100.11 624.14 L100.29 625.78 L100.48 627.31 L100.66 628.69 L100.84 629.89 L101.02 630.89 L101.21 631.83 L101.39 632.76 L101.57 633.64 L101.76 634.44 L101.94 635.1 L102.12 635.59 L102.3 635.86 L102.49 635.85 L102.67 635.47 L102.85 634.75 L103.03 633.77 L103.22 632.59 L103.4 631.29 L103.58 629.92 L103.77 628.55 L103.95 627.27 L104.13 626.06 L104.31 624.83 L104.5 623.55 L104.68 622.24 L104.86 620.89 L105.04 619.5 L105.23 618.08 L105.41 616.62 L105.59 615.13 L105.78 613.61 L105.96 612.06 L106.14 610.47 L106.32 608.86 L106.51 607.22 L106.69 605.55 L106.87 603.85 L107.06 602.09 L107.24 600.23 L107.42 598.27 L107.6 596.23 L107.79 594.13 L107.97 591.97 L108.15 589.78 L108.33 587.57 L108.52 585.34 L108.7 583.13 L108.88 580.93 L109.07 578.77 L109.25 576.66 L109.43 574.61 L109.61 572.64 L109.8 570.76 L109.98 568.98 L110.16 567.22 L110.34 565.47 L110.53 563.74 L110.71 562.03 L110.89 560.33 L111.08 558.67 L111.26 557.03 L111.44 555.43 L111.62 553.86 L111.81 552.33 L111.99 550.85 L112.17 549.41 L112.36 548.02 L112.54 546.69 L112.72 545.42 L112.9 544.2 L113.09 543.05 L113.27 541.91 L113.45 540.8 L113.63 539.71 L113.82 538.65 L114 537.64 L114.18 536.69 L114.37 535.8 L114.55 534.98 L114.73 534.25 L114.91 533.6 L115.1 533.04 L115.28 532.49 L115.46 531.94 L115.64 531.41 L115.83 530.91 L116.01 530.44 L116.19 530.03 L116.38 529.68 L116.56 529.4 L116.74 529.21 L116.92 529.11 L117.11 529.12 L117.29 529.2 L117.47 529.35 L117.66 529.56 L117.84 529.82 L118.02 530.12 L118.2 530.45 L118.39 530.8 L118.57 531.17 L118.75 531.55 L118.93 531.92 L119.12 532.29 L119.3 532.69 L119.48 533.13 L119.67 533.6 L119.85 534.1 L120.03 534.64 L120.21 535.21 L120.4 535.82 L120.58 536.46 L120.76 537.13 L120.94 537.84 L121.13 538.58 L121.31 539.39 L121.49 540.28 L121.68 541.26 L121.86 542.31 L122.04 543.43 L122.22 544.61 L122.41 545.85 L122.59 547.13 L122.77 548.45 L122.96 549.8 L123.14 551.18 L123.32 552.58 L123.5 553.99 L123.69 555.4 L123.87 556.82 L124.05 558.23 L124.23 559.62 L124.42 561.07 L124.6 562.59 L124.78 564.18 L124.97 565.83 L125.15 567.51 L125.33 569.22 L125.51 570.94 L125.7 572.67 L125.88 574.39 L126.06 576.08 L126.24 577.75 L126.43 579.36 L126.61 580.92 L126.79 582.4 L126.98 583.8 L127.16 585.1 L127.34 586.33 L127.52 587.56 L127.71 588.77 L127.89 589.98 L128.07 591.16 L128.26 592.33 L128.44 593.47 L128.62 594.57 L128.8 595.64 L128.99 596.66 L129.17 597.64 L129.35 598.56 L129.53 599.42 L129.72 600.23 L129.9 600.96 L130.08 601.62 L130.27 602.21 L130.45 602.74 L130.63 603.26 L130.81 603.78 L131 604.3 L131.18 604.8 L131.36 605.28 L131.54 605.74 L131.73 606.17 L131.91 606.58 L132.09 606.95 L132.28 607.28 L132.46 607.56 L132.64 607.8 L132.82 607.99 L133.01 608.12 L133.19 608.19 L133.37 608.2 L133.56 608.1 L133.74 607.9 L133.92 607.61 L134.1 607.23 L134.29 606.78 L134.47 606.26 L134.65 605.68 L134.83 605.05 L135.02 604.37 L135.2 603.65 L135.38 602.91 L135.57 602.15 L135.75 601.38 L135.93 600.6 L136.11 599.83 L136.3 599.07 L136.48 598.33 L136.66 597.62 L136.84 596.94 L137.03 596.31 L137.21 595.74 L137.39 595.18 L137.58 594.62 L137.76 594.05 L137.94 593.48 L138.12 592.91 L138.31 592.33 L138.49 591.76 L138.67 591.18 L138.86 590.61 L139.04 590.05 L139.22 589.49 L139.4 588.94 L139.59 588.4 L139.77 587.87 L139.95 587.36 L140.13 586.86 L140.32 586.37 L140.5 585.9 L140.68 585.45 L140.87 585.03 L141.05 584.62 L141.23 584.24 L141.41 583.88 L141.6 583.51 L141.78 583.15 L141.96 582.78 L142.14 582.42 L142.33 582.05 L142.51 581.7 L142.69 581.35 L142.88 581 L143.06 580.67 L143.24 580.35 L143.42 580.04 L143.61 579.75 L143.79 579.48 L143.97 579.22 L144.16 578.98 L144.34 578.77 L144.52 578.58 L144.7 578.41 L144.89 578.28 L145.07 578.17 L145.25 578.09 L145.43 578.04 L145.62 577.99 L145.8 577.94 L145.98 577.89 L146.17 577.85 L146.35 577.81 L146.53 577.77 L146.71 577.73 L146.9 577.7 L147.08 577.67 L147.26 577.64 L147.44 577.62 L147.63 577.6 L147.81 577.59 L147.99 577.57 L148.18 577.57 L148.36 577.56 L148.54 577.57 L148.72 577.6 L148.91 577.66 L149.09 577.74 L149.27 577.84 L149.46 577.96 L149.64 578.1 L149.82 578.26 L150 578.43 L150.19 578.62 L150.37 578.81 L150.55 579.02 L150.73 579.24 L150.92 579.47 L151.1 579.7 L151.28 579.94 L151.47 580.18 L151.65 580.42 L151.83 580.66 L152.01 580.91 L152.2 581.15 L152.38 581.38 L152.56 581.63 L152.74 581.9 L152.93 582.19 L153.11 582.5 L153.29 582.83 L153.48 583.17 L153.66 583.53 L153.84 583.9 L154.02 584.28 L154.21 584.67 L154.39 585.06 L154.57 585.45 L154.76 585.85 L154.94 586.24 L155.12 586.63 L155.3 587.02 L155.49 587.39 L155.67 587.76 L155.85 588.11 L156.03 588.45 L156.22 588.77 L156.4 589.07 L156.58 589.36 L156.77 589.64 L156.95 589.93 L157.13 590.22 L157.31 590.51 L157.5 590.79 L157.68 591.08 L157.86 591.36 L158.04 591.64 L158.23 591.92 L158.41 592.18 L158.59 592.44 L158.78 592.69 L158.96 592.94 L159.14 593.17 L159.32 593.39 L159.51 593.59 L159.69 593.78 L159.87 593.96 L160.06 594.12 L160.24 594.26 L160.42 594.39 L160.6 594.49 L160.79 594.58 L160.97 594.67 L161.15 594.76 L161.33 594.85 L161.52 594.94 L161.7 595.02 L161.88 595.1 L162.07 595.18 L162.25 595.25 L162.43 595.32 L162.61 595.39 L162.8 595.45 L162.98 595.51 L163.16 595.56 L163.34 595.61 L163.53 595.65 L163.71 595.69 L163.89 595.72 L164.08 595.74 L164.26 595.76 L164.44 595.77 L164.62 595.77 L164.81 595.76 L164.99 595.75 L165.17 595.74 L165.36 595.72 L165.54 595.69 L165.72 595.65 L165.9 595.62 L166.09 595.58 L166.27 595.53 L166.45 595.48 L166.63 595.43 L166.82 595.38 L167 595.32 L167.18 595.26 L167.37 595.2 L167.55 595.14 L167.73 595.08 L167.91 595.02 L168.1 594.96 L168.28 594.9 L168.46 594.84 L168.64 594.78 L168.83 594.72 L169.01 594.67 L169.19 594.62 L169.38 594.57 L169.56 594.52 L169.74 594.48 L169.92 594.43 L170.11 594.39 L170.29 594.34 L170.47 594.3 L170.66 594.25 L170.84 594.2 L171.02 594.15 L171.2 594.1 L171.39 594.04 L171.57 593.99 L171.75 593.94 L171.93 593.89 L172.12 593.84 L172.3 593.79 L172.48 593.74 L172.67 593.69 L172.85 593.65 L173.03 593.6 L173.21 593.56 L173.4 593.51 L173.58 593.47 L173.76 593.43 L173.94 593.4 L174.13 593.36 L174.31 593.33 L174.49 593.31 L174.68 593.28 L174.86 593.26 L175.04 593.24 L175.22 593.23 L175.41 593.21 L175.59 593.21 L175.77 593.21 L175.96 593.21 L176.14 593.21 L176.32 593.21 L176.5 593.22 L176.69 593.23 L176.87 593.24 L177.05 593.25 L177.23 593.27 L177.42 593.28 L177.6 593.3 L177.78 593.32 L177.97 593.34 L178.15 593.36 L178.33 593.38 L178.51 593.41 L178.7 593.43 L178.88 593.46 L179.06 593.49 L179.24 593.51 L179.43 593.54 L179.61 593.57 L179.79 593.6 L179.98 593.63 L180.16 593.67 L180.34 593.7 L180.52 593.73 L180.71 593.76 L180.89 593.79 L181.07 593.83 L181.26 593.86 L181.44 593.89 L181.62 593.92 L181.8 593.96 L181.99 593.99 L182.17 594.02 L182.35 594.06 L182.53 594.1 L182.72 594.14 L182.9 594.19 L183.08 594.24 L183.27 594.28 L183.45 594.33 L183.63 594.39 L183.81 594.44 L184 594.49 L184.18 594.55 L184.36 594.61 L184.54 594.67 L184.73 594.73 L184.91 594.79 L185.09 594.85 L185.28 594.91 L185.46 594.97 L185.64 595.03 L185.82 595.09 L186.01 595.15 L186.19 595.21 L186.37 595.27 L186.56 595.33 L186.74 595.39 L186.92 595.45 L187.1 595.51 L187.29 595.56 L187.47 595.62 L187.65 595.67 L187.83 595.72 L188.02 595.77 L188.2 595.82 L188.38 595.87 L188.57 595.92 L188.75 595.97 L188.93 596.01 L189.11 596.06 L189.3 596.1 L189.48 596.15 L189.66 596.19 L189.84 596.23 L190.03 596.28 L190.21 596.32 L190.39 596.36 L190.58 596.4 L190.76 596.45 L190.94 596.49 L191.12 596.53 L191.31 596.57 L191.49 596.61 L191.67 596.65 L191.86 596.69 L192.04 596.74 L192.22 596.78 L192.4 596.82 L192.59 596.86 L192.77 596.91 L192.95 596.95 L193.13 596.99 L193.32 597.04 L193.5 597.08 L193.68 597.13 L193.87 597.18 L194.05 597.22 L194.23 597.27 L194.41 597.32 L194.6 597.37 L194.78 597.42 L194.96 597.47 L195.14 597.53 L195.33 597.58 L195.51 597.63 L195.69 597.69 L195.88 597.75 L196.06 597.81 L196.24 597.87 L196.42 597.93 L196.61 598.01 L196.79 598.08 L196.97 598.16 L197.16 598.24 L197.34 598.32 L197.52 598.41 L197.7 598.5 L197.89 598.58 L198.07 598.67 L198.25 598.76 L198.43 598.85 L198.62 598.93 L198.8 599.02 L198.98 599.1 L199.17 599.18 L199.35 599.25 L199.53 599.33 L199.71 599.39 L199.9 599.45 L200.08 599.51 L200.26 599.57 L200.44 599.62 L200.63 599.68 L200.81 599.73 L200.99 599.79 L201.18 599.84 L201.36 599.89 L201.54 599.95 L201.72 600 L201.91 600.05 L202.09 600.1 L202.27 600.15 L202.46 600.2 L202.64 600.25 L202.82 600.3 L203 600.35 L203.19 600.4 L203.37 600.45 L203.55 600.5 L203.73 600.55 L203.92 600.6 L204.1 600.64 L204.28 600.69 L204.47 600.74 L204.65 600.78 L204.83 600.83 L205.01 600.87 L205.2 600.92 L205.38 600.96 L205.56 601.01 L205.74 601.05 L205.93 601.1 L206.11 601.14 L206.29 601.18 L206.48 601.23 L206.66 601.27 L206.84 601.31 L207.02 601.35 L207.21 601.4 L207.39 601.44 L207.57 601.48 L207.76 601.52 L207.94 601.56 L208.12 601.6 L208.3 601.64 L208.49 601.68 L208.67 601.72 L208.85 601.76 L209.03 601.8 L209.22 601.84 L209.4 601.88 L209.58 601.91 L209.77 601.95 L209.95 601.99 L210.13 602.03 L210.31 602.07 L210.5 602.1 L210.68 602.14 L210.86 602.18 L211.04 602.21 L211.23 602.25 L211.41 602.29 L211.59 602.32 L211.78 602.36 L211.96 602.39 L212.14 602.43 L212.32 602.47 L212.51 602.5 L212.69 602.54 L212.87 602.57 L213.06 602.61 L213.24 602.64 L213.42 602.67 L213.6 602.71 L213.79 602.74 L213.97 602.78 L214.15 602.81 L214.33 602.85 L214.52 602.88 L214.7 602.91 L214.88 602.95 L215.07 602.98 L215.25 603.01 L215.43 603.05 L215.61 603.08 L215.8 603.11 L215.98 603.15 L216.16 603.18 L216.34 603.21 L216.53 603.24 L216.71 603.28 L216.89 603.31 L217.08 603.34 L217.26 603.37 L217.44 603.41 L217.62 603.44 L217.81 603.47 L217.99 603.5 L218.17 603.54 L218.36 603.57 L218.54 603.6 L218.72 603.63 L218.9 603.66 L219.09 603.7 L219.27 603.73 L219.45 603.76 L219.63 603.79 L219.82 603.83 L220 603.86 L223.44 604.47 L226.88 605.12 L230.33 605.84 L233.77 606.6 L237.21 607.37 L240.65 608.15 L244.1 608.93 L247.54 609.72 L250.98 610.51 L254.42 611.3 L257.87 612.08 L261.31 612.86 L264.75 613.64 L268.19 614.44 L271.64 615.23 L275.08 616.03 L278.52 616.82 L281.96 617.61 L285.41 618.39 L288.85 619.16 L292.29 619.92 L295.73 620.65 L299.17 621.37 L302.62 622.07 L306.06 622.76 L309.5 623.44 L312.94 624.11 L316.39 624.77 L319.83 625.42 L323.27 626.06 L326.71 626.68 L330.16 627.3 L333.6 627.9 L337.04 628.48 L340.48 629.05 L343.93 629.62 L347.37 630.17 L350.81 630.72 L354.25 631.25 L357.69 631.78 L361.14 632.29 L364.58 632.8 L368.02 633.28 L371.46 633.76 L374.91 634.22 L378.35 634.66 L381.79 635.09 L385.23 635.51 L388.68 635.93 L392.12 636.33 L395.56 636.72 L399 637.11 L402.45 637.48 L405.89 637.85 L409.33 638.2 L412.77 638.54 L416.22 638.87 L419.66 639.18 L423.1 639.49" fill="none" stroke="#ff9900" stroke-width="2.3" stroke-dasharray="7.71 3.33" clip-path="url(#c2)" stroke-linejoin="round"/>
<rect x="55.7" y="368.85" width="367.4" height="281.15" fill="none" stroke="#000" stroke-width="1.85"/>
<line x1="55.7" x2="55.7" y1="650" y2="653.97" stroke="#000" stroke-width="1.1"/>
<text transform="translate(55.7 667.82) scale(1 1.06)" text-anchor="middle" font-size="16.67">0</text>
<line x1="129.18" x2="129.18" y1="650" y2="653.97" stroke="#000" stroke-width="1.1"/>
<text transform="translate(129.18 667.82) scale(1 1.06)" text-anchor="middle" font-size="16.67">0.5</text>
<line x1="202.66" x2="202.66" y1="650" y2="653.97" stroke="#000" stroke-width="1.1"/>
<text transform="translate(202.66 667.82) scale(1 1.06)" text-anchor="middle" font-size="16.67">1</text>
<line x1="276.14" x2="276.14" y1="650" y2="653.97" stroke="#000" stroke-width="1.1"/>
<text transform="translate(276.14 667.82) scale(1 1.06)" text-anchor="middle" font-size="16.67">1.5</text>
<line x1="349.62" x2="349.62" y1="650" y2="653.97" stroke="#000" stroke-width="1.1"/>
<text transform="translate(349.62 667.82) scale(1 1.06)" text-anchor="middle" font-size="16.67">2</text>
<line x1="423.1" x2="423.1" y1="650" y2="653.97" stroke="#000" stroke-width="1.1"/>
<text transform="translate(423.1 667.82) scale(1 1.06)" text-anchor="middle" font-size="16.67">2.5</text>
<line x1="52.6" x2="55.7" y1="650" y2="650" stroke="#000" stroke-width="1.1"/>
<text transform="translate(50 656.41) scale(1 1.06)" text-anchor="end" font-size="16.67">0.0</text>
<line x1="52.6" x2="55.7" y1="593.77" y2="593.77" stroke="#000" stroke-width="1.1"/>
<text transform="translate(50 600.18) scale(1 1.06)" text-anchor="end" font-size="16.67">0.2</text>
<line x1="52.6" x2="55.7" y1="537.54" y2="537.54" stroke="#000" stroke-width="1.1"/>
<text transform="translate(50 543.95) scale(1 1.06)" text-anchor="end" font-size="16.67">0.4</text>
<line x1="52.6" x2="55.7" y1="481.31" y2="481.31" stroke="#000" stroke-width="1.1"/>
<text transform="translate(50 487.72) scale(1 1.06)" text-anchor="end" font-size="16.67">0.6</text>
<line x1="52.6" x2="55.7" y1="425.08" y2="425.08" stroke="#000" stroke-width="1.1"/>
<text transform="translate(50 431.49) scale(1 1.06)" text-anchor="end" font-size="16.67">0.8</text>
<line x1="52.6" x2="55.7" y1="368.85" y2="368.85" stroke="#000" stroke-width="1.1"/>
<text transform="translate(50 375.26) scale(1 1.06)" text-anchor="end" font-size="16.67">1.0</text>
<text transform="translate(106.9 397.31) scale(1 1.06)" text-anchor="middle" font-size="16.67">(b)</text>
<text transform="translate(239 689.74) scale(1 1.06)" text-anchor="middle" font-size="20.83">t (<tspan font-size="27.08" dy="1.5" dx="-1.2">×</tspan><tspan dy="-1.5" dx="-0.8">10</tspan><tspan font-size="16.25" dy="-6.88">−3</tspan><tspan dy="6.88" dx="0.5">)</tspan></text>
<text transform="translate(23.6 509.1) rotate(-90) scale(1.035 1)" text-anchor="middle" font-size="20.83">Fidelity</text>
<rect x="181.5" y="377.44" width="233.8" height="151.15" rx="3" ry="3.6" fill="#fff" fill-opacity="0.8" stroke="#dadada" stroke-opacity="0.9" stroke-width="1.1"/>
<path d="M188 390.64 L221.7 390.64" fill="none" stroke="#ff0000" stroke-width="2.3" stroke-linecap="square" stroke-linejoin="round"/>
<text transform="translate(234.7 396.54) scale(1 1.06)" text-anchor="start" font-size="16.67">Normal phase<tspan letter-spacing="-0.5">, E=0</tspan></text>
<path d="M188 415 L221.7 415" fill="none" stroke="#ffcc00" stroke-width="2.3" stroke-dasharray="13.33 3.33 2.08 3.33" stroke-linejoin="round"/>
<text transform="translate(234.7 420.9) scale(1 1.06)" text-anchor="start" font-size="16.67">Normal phase<tspan letter-spacing="-0.5">, E=0.5</tspan></text>
<path d="M188 439.36 L221.7 439.36" fill="none" stroke="#00ff00" stroke-width="2.3" stroke-dasharray="2.08 3.44" stroke-linejoin="round"/>
<text transform="translate(234.7 445.26) scale(1 1.06)" text-anchor="start" font-size="16.67">Normal phase<tspan letter-spacing="-0.5">, E=1</tspan></text>
<path d="M188 463.72 L221.7 463.72" fill="none" stroke="#0000ff" stroke-width="2.3" stroke-linecap="square" stroke-linejoin="round"/>
<text transform="translate(234.7 469.62) scale(1 1.06)" text-anchor="start" font-size="16.67">Superradiant phase<tspan letter-spacing="-0.5">, E=0</tspan></text>
<path d="M188 488.08 L221.7 488.08" fill="none" stroke="#ff00ff" stroke-width="2.3" stroke-dasharray="13.33 3.33 2.08 3.33" stroke-linejoin="round"/>
<text transform="translate(234.7 493.97) scale(1 1.06)" text-anchor="start" font-size="16.67">Superradiant phase<tspan letter-spacing="-0.5">, E=0.5</tspan></text>
<path d="M188 512.44 L221.7 512.44" fill="none" stroke="#ff9900" stroke-width="2.3" stroke-dasharray="7.71 3.33" stroke-linejoin="round"/>
<text transform="translate(234.7 518.33) scale(1 1.06)" text-anchor="start" font-size="16.67">Superradiant phase<tspan letter-spacing="-0.5">, E=1</tspan></text>
</g></g></svg>
</body></html>
